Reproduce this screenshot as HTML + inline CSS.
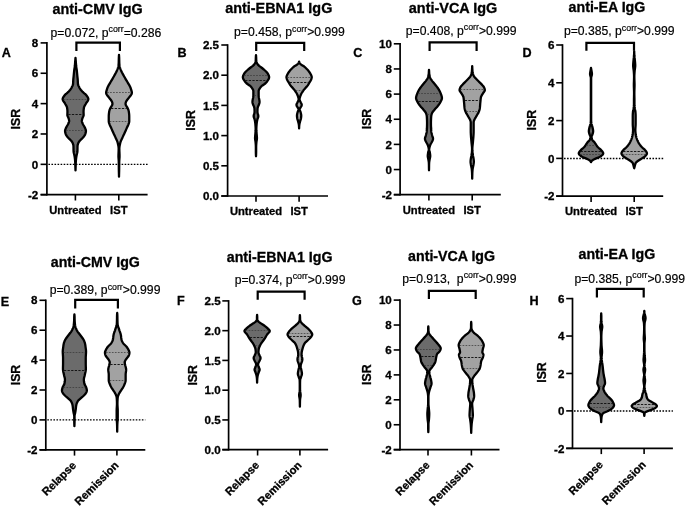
<!DOCTYPE html>
<html><head><meta charset="utf-8"><title>ISR violin plots</title>
<style>
html,body{margin:0;padding:0;background:#fff;}
body{width:685px;height:507px;overflow:hidden;}
svg{display:block;}
svg text{font-family:'Liberation Sans', Arial, Helvetica, sans-serif;fill:#000;stroke:#000;stroke-width:0.3px;}
svg text.r{stroke-width:0.18px;}
</style></head><body>
<svg width="685" height="507" viewBox="0 0 685 507">
<rect width="685" height="507" fill="#fff"/>
<line x1="46.90" y1="42.10" x2="46.90" y2="195.50" stroke="#000" stroke-width="1.7" />
<line x1="40.60" y1="194.70" x2="147.60" y2="194.70" stroke="#000" stroke-width="1.7" />
<line x1="40.60" y1="42.90" x2="46.90" y2="42.90" stroke="#000" stroke-width="1.6" />
<text x="38.20" y="47.08" font-size="11.6" font-weight="bold" text-anchor="end" >8</text>
<line x1="40.60" y1="73.26" x2="46.90" y2="73.26" stroke="#000" stroke-width="1.6" />
<text x="38.20" y="77.44" font-size="11.6" font-weight="bold" text-anchor="end" >6</text>
<line x1="40.60" y1="103.62" x2="46.90" y2="103.62" stroke="#000" stroke-width="1.6" />
<text x="38.20" y="107.80" font-size="11.6" font-weight="bold" text-anchor="end" >4</text>
<line x1="40.60" y1="133.98" x2="46.90" y2="133.98" stroke="#000" stroke-width="1.6" />
<text x="38.20" y="138.16" font-size="11.6" font-weight="bold" text-anchor="end" >2</text>
<line x1="40.60" y1="164.34" x2="46.90" y2="164.34" stroke="#000" stroke-width="1.6" />
<text x="38.20" y="168.52" font-size="11.6" font-weight="bold" text-anchor="end" >0</text>
<line x1="40.60" y1="194.70" x2="46.90" y2="194.70" stroke="#000" stroke-width="1.6" />
<text x="38.20" y="198.88" font-size="11.6" font-weight="bold" text-anchor="end" >-2</text>
<line x1="75.40" y1="194.70" x2="75.40" y2="200.50" stroke="#000" stroke-width="1.6" />
<line x1="118.80" y1="194.70" x2="118.80" y2="200.50" stroke="#000" stroke-width="1.6" />
<line x1="48.40" y1="164.40" x2="147.60" y2="164.40" stroke="#000" stroke-width="1.3" stroke-dasharray="1.6 1.45"/>
<text x="1.80" y="57.20" font-size="12.6" font-weight="bold" text-anchor="start" >A</text>
<text x="16.50" y="119.20" font-size="12.3" font-weight="bold" text-anchor="middle" transform="rotate(-90 16.50 119.20)" dominant-baseline="central">ISR</text>
<text x="52.60" y="13.70" font-size="14.35" font-weight="bold" text-anchor="start" >anti-CMV IgG</text>
<text x="50.60" y="36.80" font-size="12.2" font-weight="normal" class="r" style="white-space:pre">p=0.072, p<tspan font-size="8.8" dy="-4.7">corr</tspan><tspan dy="4.7">=0.286</tspan></text>
<path d="M76.40,51.00 L76.40,42.60 L119.90,42.60 L119.90,51.00" fill="none" stroke="#000" stroke-width="2.2" stroke-linejoin="miter"/>
<text x="75.40" y="213.70" font-size="11.2" font-weight="bold" text-anchor="middle" >Untreated</text>
<text x="118.80" y="213.70" font-size="11.2" font-weight="bold" text-anchor="middle" >IST</text>
<path d="M75.50,57.90 75.57,58.72 75.64,59.54 75.71,60.36 75.78,61.18 75.85,62.00 75.91,62.80 75.96,63.60 76.02,64.40 76.08,65.20 76.15,66.00 76.25,66.80 76.37,67.60 76.51,68.40 76.64,69.20 76.75,70.00 76.84,70.75 76.92,71.50 76.99,72.25 77.07,73.00 77.14,73.75 77.21,74.50 77.28,75.25 77.35,76.00 77.43,76.80 77.52,77.60 77.61,78.40 77.69,79.20 77.75,80.00 77.79,80.80 77.82,81.60 77.85,82.40 77.89,83.20 77.95,84.00 78.08,84.70 78.32,85.40 78.64,86.10 78.99,86.80 79.35,87.50 79.81,88.33 80.34,89.17 80.95,90.00 81.64,90.80 82.42,91.60 83.25,92.40 84.26,93.27 85.31,94.13 86.15,95.00 86.67,95.70 87.18,96.40 87.64,97.10 88.01,97.80 88.26,98.50 88.35,99.20 88.23,99.90 87.92,100.60 87.47,101.30 86.97,102.00 86.47,102.70 86.05,103.40 85.57,104.24 85.06,105.08 84.58,105.92 84.18,106.76 83.95,107.60 83.84,108.30 83.75,109.00 83.67,109.70 83.60,110.40 83.56,111.10 83.55,111.80 83.57,112.60 83.60,113.40 83.63,114.20 83.65,115.00 83.54,115.70 83.28,116.40 82.94,117.10 82.60,117.80 82.35,118.50 82.13,119.33 81.93,120.17 81.85,121.00 81.95,121.75 82.19,122.50 82.52,123.25 82.85,124.00 83.23,124.75 83.69,125.50 84.16,126.25 84.55,127.00 84.92,127.80 85.29,128.60 85.63,129.40 85.86,130.20 85.95,131.00 85.88,131.85 85.70,132.70 85.44,133.55 85.15,134.40 84.79,135.16 84.29,135.92 83.68,136.68 83.02,137.44 82.35,138.20 81.46,139.10 80.55,140.00 79.60,141.00 78.85,142.00 78.47,142.78 78.12,143.56 77.84,144.34 77.64,145.12 77.55,145.90 77.53,146.63 77.51,147.36 77.50,148.09 77.49,148.81 77.48,149.54 77.47,150.27 77.45,151.00 77.39,151.74 77.27,152.49 77.11,153.23 76.93,153.97 76.75,154.71 76.58,155.46 76.45,156.20 76.34,156.93 76.24,157.66 76.14,158.39 76.05,159.11 75.97,159.84 75.90,160.57 75.85,161.30 75.81,162.03 75.78,162.76 75.75,163.49 75.72,164.21 75.70,164.94 75.68,165.67 75.65,166.40 75.62,167.20 75.59,168.00 75.56,168.80 75.53,169.60 75.50,170.40 L75.50,170.40 75.47,169.60 75.44,168.80 75.41,168.00 75.38,167.20 75.35,166.40 75.32,165.67 75.30,164.94 75.28,164.21 75.25,163.49 75.22,162.76 75.19,162.03 75.15,161.30 75.10,160.57 75.03,159.84 74.95,159.11 74.86,158.39 74.76,157.66 74.66,156.93 74.55,156.20 74.42,155.46 74.25,154.71 74.07,153.97 73.89,153.23 73.73,152.49 73.61,151.74 73.55,151.00 73.53,150.27 73.52,149.54 73.51,148.81 73.50,148.09 73.49,147.36 73.47,146.63 73.45,145.90 73.36,145.12 73.16,144.34 72.88,143.56 72.53,142.78 72.15,142.00 71.40,141.00 70.45,140.00 69.54,139.10 68.65,138.20 67.98,137.44 67.32,136.68 66.71,135.92 66.21,135.16 65.85,134.40 65.56,133.55 65.30,132.70 65.12,131.85 65.05,131.00 65.14,130.20 65.37,129.40 65.71,128.60 66.08,127.80 66.45,127.00 66.84,126.25 67.31,125.50 67.77,124.75 68.15,124.00 68.48,123.25 68.81,122.50 69.05,121.75 69.15,121.00 69.07,120.17 68.87,119.33 68.65,118.50 68.40,117.80 68.06,117.10 67.72,116.40 67.46,115.70 67.35,115.00 67.37,114.20 67.40,113.40 67.43,112.60 67.45,111.80 67.44,111.10 67.40,110.40 67.33,109.70 67.25,109.00 67.16,108.30 67.05,107.60 66.82,106.76 66.42,105.92 65.94,105.08 65.43,104.24 64.95,103.40 64.53,102.70 64.03,102.00 63.53,101.30 63.08,100.60 62.77,99.90 62.65,99.20 62.74,98.50 62.99,97.80 63.36,97.10 63.82,96.40 64.33,95.70 64.85,95.00 65.69,94.13 66.74,93.27 67.75,92.40 68.58,91.60 69.36,90.80 70.05,90.00 70.66,89.17 71.19,88.33 71.65,87.50 72.01,86.80 72.36,86.10 72.68,85.40 72.92,84.70 73.05,84.00 73.11,83.20 73.15,82.40 73.18,81.60 73.21,80.80 73.25,80.00 73.31,79.20 73.39,78.40 73.48,77.60 73.57,76.80 73.65,76.00 73.72,75.25 73.79,74.50 73.86,73.75 73.93,73.00 74.01,72.25 74.08,71.50 74.16,70.75 74.25,70.00 74.36,69.20 74.49,68.40 74.63,67.60 74.75,66.80 74.85,66.00 74.92,65.20 74.98,64.40 75.04,63.60 75.09,62.80 75.15,62.00 75.22,61.18 75.29,60.36 75.36,59.54 75.43,58.72 75.50,57.90 Z" fill="#6b6b6b" stroke="#000" stroke-width="2.3" stroke-linejoin="round"/>
<line x1="63.60" y1="99.50" x2="87.40" y2="99.50" stroke="#3a3a3a" stroke-width="0.75" stroke-dasharray="1.7 1.3"/>
<line x1="66.01" y1="130.50" x2="84.99" y2="130.50" stroke="#3a3a3a" stroke-width="0.75" stroke-dasharray="1.7 1.3"/>
<line x1="68.26" y1="114.50" x2="82.74" y2="114.50" stroke="#111" stroke-width="0.95" stroke-dasharray="2.3 1.3"/>
<path d="M119.00,54.90 119.05,55.77 119.11,56.63 119.15,57.50 119.18,58.29 119.20,59.08 119.22,59.86 119.24,60.65 119.26,61.44 119.28,62.22 119.31,63.01 119.35,63.80 119.42,64.60 119.54,65.40 119.69,66.20 119.86,67.00 120.05,67.80 120.28,68.58 120.56,69.36 120.89,70.14 121.24,70.92 121.60,71.70 121.99,72.50 122.41,73.30 122.85,74.10 123.30,74.90 123.75,75.70 124.18,76.48 124.62,77.26 125.06,78.04 125.50,78.82 125.95,79.60 126.42,80.40 126.91,81.20 127.40,82.00 127.88,82.80 128.35,83.60 128.80,84.38 129.26,85.16 129.70,85.94 130.10,86.72 130.45,87.50 130.74,88.28 131.00,89.05 131.23,89.82 131.45,90.60 131.66,91.30 131.80,92.00 131.84,92.50 131.85,93.00 131.68,93.75 131.35,94.50 130.89,95.27 130.27,96.03 129.65,96.80 129.01,97.60 128.34,98.40 127.68,99.20 127.07,100.00 126.55,100.80 126.08,101.65 125.75,102.50 125.61,103.20 125.55,103.90 125.72,104.70 126.05,105.50 126.50,106.30 127.08,107.10 127.55,107.90 127.89,108.68 128.21,109.46 128.48,110.24 128.70,111.02 128.85,111.80 128.95,112.58 129.05,113.37 129.13,114.15 129.19,114.93 129.24,115.72 129.25,116.50 129.25,117.30 129.25,118.10 129.25,118.90 129.25,119.70 129.25,120.50 129.25,121.30 129.17,122.08 128.98,122.85 128.72,123.62 128.45,124.40 128.10,125.27 127.67,126.13 127.25,127.00 126.89,127.80 126.55,128.60 126.20,129.40 125.85,130.20 125.51,131.00 125.15,131.80 124.78,132.60 124.41,133.40 124.03,134.20 123.65,135.00 123.27,135.80 122.91,136.60 122.55,137.40 122.19,138.20 121.81,139.00 121.44,139.80 121.08,140.60 120.75,141.40 120.47,142.20 120.25,143.00 120.09,143.71 119.93,144.43 119.77,145.14 119.64,145.85 119.52,146.56 119.43,147.27 119.37,147.99 119.35,148.70 119.36,149.45 119.37,150.20 119.39,150.95 119.42,151.70 119.45,152.45 119.48,153.20 119.51,153.95 119.53,154.70 119.54,155.45 119.55,156.20 119.54,156.90 119.51,157.60 119.46,158.30 119.41,159.00 119.36,159.70 119.31,160.40 119.27,161.10 119.25,161.80 119.24,162.52 119.23,163.23 119.22,163.95 119.21,164.67 119.20,165.38 119.20,166.10 119.19,166.82 119.18,167.53 119.18,168.25 119.17,168.97 119.16,169.68 119.15,170.40 119.14,171.18 119.12,171.95 119.10,172.72 119.08,173.50 119.06,174.28 119.04,175.05 119.02,175.82 119.00,176.60 L119.00,176.60 118.98,175.82 118.96,175.05 118.94,174.28 118.92,173.50 118.90,172.72 118.88,171.95 118.86,171.18 118.85,170.40 118.84,169.68 118.83,168.97 118.82,168.25 118.82,167.53 118.81,166.82 118.80,166.10 118.80,165.38 118.79,164.67 118.78,163.95 118.77,163.23 118.76,162.52 118.75,161.80 118.73,161.10 118.69,160.40 118.64,159.70 118.59,159.00 118.54,158.30 118.49,157.60 118.46,156.90 118.45,156.20 118.46,155.45 118.47,154.70 118.49,153.95 118.52,153.20 118.55,152.45 118.58,151.70 118.61,150.95 118.63,150.20 118.64,149.45 118.65,148.70 118.63,147.99 118.57,147.27 118.48,146.56 118.36,145.85 118.23,145.14 118.07,144.43 117.91,143.71 117.75,143.00 117.53,142.20 117.25,141.40 116.92,140.60 116.56,139.80 116.19,139.00 115.81,138.20 115.45,137.40 115.09,136.60 114.73,135.80 114.35,135.00 113.97,134.20 113.59,133.40 113.22,132.60 112.85,131.80 112.49,131.00 112.15,130.20 111.80,129.40 111.45,128.60 111.11,127.80 110.75,127.00 110.33,126.13 109.90,125.27 109.55,124.40 109.28,123.62 109.02,122.85 108.83,122.08 108.75,121.30 108.75,120.50 108.75,119.70 108.75,118.90 108.75,118.10 108.75,117.30 108.75,116.50 108.76,115.72 108.81,114.93 108.87,114.15 108.95,113.37 109.05,112.58 109.15,111.80 109.30,111.02 109.52,110.24 109.79,109.46 110.11,108.68 110.45,107.90 110.92,107.10 111.50,106.30 111.95,105.50 112.28,104.70 112.45,103.90 112.39,103.20 112.25,102.50 111.92,101.65 111.45,100.80 110.93,100.00 110.32,99.20 109.66,98.40 108.99,97.60 108.35,96.80 107.73,96.03 107.11,95.27 106.65,94.50 106.32,93.75 106.15,93.00 106.16,92.50 106.20,92.00 106.34,91.30 106.55,90.60 106.77,89.82 107.00,89.05 107.26,88.28 107.55,87.50 107.90,86.72 108.30,85.94 108.74,85.16 109.20,84.38 109.65,83.60 110.12,82.80 110.60,82.00 111.09,81.20 111.58,80.40 112.05,79.60 112.50,78.82 112.94,78.04 113.38,77.26 113.82,76.48 114.25,75.70 114.70,74.90 115.15,74.10 115.59,73.30 116.01,72.50 116.40,71.70 116.76,70.92 117.11,70.14 117.44,69.36 117.72,68.58 117.95,67.80 118.14,67.00 118.31,66.20 118.46,65.40 118.58,64.60 118.65,63.80 118.69,63.01 118.72,62.22 118.74,61.44 118.76,60.65 118.78,59.86 118.80,59.08 118.82,58.29 118.85,57.50 118.89,56.63 118.95,55.77 119.00,54.90 Z" fill="#a2a2a2" stroke="#000" stroke-width="2.3" stroke-linejoin="round"/>
<line x1="107.06" y1="92.50" x2="130.94" y2="92.50" stroke="#3a3a3a" stroke-width="0.75" stroke-dasharray="1.7 1.3"/>
<line x1="109.67" y1="121.50" x2="128.33" y2="121.50" stroke="#3a3a3a" stroke-width="0.75" stroke-dasharray="1.7 1.3"/>
<line x1="111.09" y1="108.50" x2="126.91" y2="108.50" stroke="#111" stroke-width="0.95" stroke-dasharray="2.3 1.3"/>
<line x1="227.60" y1="44.20" x2="227.60" y2="196.80" stroke="#000" stroke-width="1.7" />
<line x1="221.30" y1="196.00" x2="328.00" y2="196.00" stroke="#000" stroke-width="1.7" />
<line x1="221.30" y1="45.00" x2="227.60" y2="45.00" stroke="#000" stroke-width="1.6" />
<text x="219.00" y="49.18" font-size="11.6" font-weight="bold" text-anchor="end" >2.5</text>
<line x1="221.30" y1="75.20" x2="227.60" y2="75.20" stroke="#000" stroke-width="1.6" />
<text x="219.00" y="79.38" font-size="11.6" font-weight="bold" text-anchor="end" >2.0</text>
<line x1="221.30" y1="105.40" x2="227.60" y2="105.40" stroke="#000" stroke-width="1.6" />
<text x="219.00" y="109.58" font-size="11.6" font-weight="bold" text-anchor="end" >1.5</text>
<line x1="221.30" y1="135.60" x2="227.60" y2="135.60" stroke="#000" stroke-width="1.6" />
<text x="219.00" y="139.78" font-size="11.6" font-weight="bold" text-anchor="end" >1.0</text>
<line x1="221.30" y1="165.80" x2="227.60" y2="165.80" stroke="#000" stroke-width="1.6" />
<text x="219.00" y="169.98" font-size="11.6" font-weight="bold" text-anchor="end" >0.5</text>
<line x1="221.30" y1="196.00" x2="227.60" y2="196.00" stroke="#000" stroke-width="1.6" />
<text x="219.00" y="200.18" font-size="11.6" font-weight="bold" text-anchor="end" >0.0</text>
<line x1="256.00" y1="196.00" x2="256.00" y2="201.80" stroke="#000" stroke-width="1.6" />
<line x1="299.10" y1="196.00" x2="299.10" y2="201.80" stroke="#000" stroke-width="1.6" />
<text x="177.50" y="57.20" font-size="12.6" font-weight="bold" text-anchor="start" >B</text>
<text x="191.00" y="120.40" font-size="12.3" font-weight="bold" text-anchor="middle" transform="rotate(-90 191.00 120.40)" dominant-baseline="central">ISR</text>
<text x="225.20" y="13.10" font-size="14.4" font-weight="bold" text-anchor="start" >anti-EBNA1 IgG</text>
<text x="234.10" y="36.40" font-size="12.2" font-weight="normal" class="r" style="white-space:pre">p=0.458, p<tspan font-size="8.8" dy="-4.7">corr</tspan><tspan dy="4.7">&gt;0.999</tspan></text>
<path d="M256.20,51.10 L256.20,42.90 L304.20,42.90 L304.20,51.10" fill="none" stroke="#000" stroke-width="2.2" stroke-linejoin="miter"/>
<text x="256.00" y="215.20" font-size="11.2" font-weight="bold" text-anchor="middle" >Untreated</text>
<text x="299.10" y="215.20" font-size="11.2" font-weight="bold" text-anchor="middle" >IST</text>
<path d="M256.00,55.20 256.08,56.10 256.15,57.00 256.18,57.75 256.20,58.50 256.22,59.25 256.25,60.00 256.33,60.83 256.46,61.67 256.65,62.50 256.97,63.25 257.45,64.00 258.21,64.90 259.15,65.80 260.21,66.65 261.35,67.50 262.63,68.50 263.85,69.50 265.01,70.50 266.05,71.50 266.78,72.30 267.44,73.10 267.95,73.90 268.37,74.70 268.76,75.50 269.04,76.30 269.15,77.10 269.06,77.87 268.81,78.64 268.44,79.41 267.96,80.19 267.42,80.96 266.84,81.73 266.25,82.50 265.54,83.23 264.59,83.97 263.53,84.70 262.47,85.43 261.54,86.17 260.85,86.90 260.33,87.62 259.82,88.33 259.36,89.05 258.99,89.77 258.74,90.48 258.65,91.20 258.65,91.92 258.65,92.63 258.65,93.35 258.65,94.07 258.65,94.78 258.65,95.50 258.68,96.22 258.76,96.94 258.88,97.67 259.03,98.39 259.17,99.11 259.32,99.83 259.44,100.56 259.52,101.28 259.55,102.00 259.48,102.73 259.31,103.47 259.06,104.20 258.75,104.93 258.43,105.67 258.12,106.40 257.85,107.13 257.65,107.87 257.55,108.60 257.51,109.45 257.48,110.30 257.46,111.15 257.45,112.00 257.54,112.82 257.77,113.64 258.03,114.46 258.26,115.28 258.35,116.10 258.26,116.88 258.04,117.66 257.75,118.44 257.46,119.22 257.25,120.00 257.11,120.70 256.99,121.40 256.87,122.10 256.77,122.80 256.70,123.50 256.63,124.24 256.57,124.97 256.51,125.71 256.46,126.45 256.41,127.19 256.38,127.93 256.36,128.66 256.35,129.40 256.37,130.17 256.40,130.93 256.46,131.70 256.53,132.47 256.59,133.23 256.65,134.00 256.71,134.72 256.77,135.43 256.84,136.15 256.89,136.87 256.93,137.58 256.95,138.30 256.91,139.04 256.80,139.78 256.67,140.52 256.54,141.26 256.45,142.00 256.39,142.74 256.33,143.49 256.27,144.23 256.22,144.97 256.18,145.71 256.16,146.46 256.15,147.20 256.15,148.00 256.15,148.80 256.15,149.60 256.15,150.40 256.15,151.20 256.15,152.00 256.14,152.72 256.12,153.43 256.09,154.15 256.06,154.87 256.03,155.58 256.00,156.30 L256.00,156.30 255.97,155.58 255.94,154.87 255.91,154.15 255.88,153.43 255.86,152.72 255.85,152.00 255.85,151.20 255.85,150.40 255.85,149.60 255.85,148.80 255.85,148.00 255.85,147.20 255.84,146.46 255.82,145.71 255.78,144.97 255.73,144.23 255.67,143.49 255.61,142.74 255.55,142.00 255.46,141.26 255.33,140.52 255.20,139.78 255.09,139.04 255.05,138.30 255.07,137.58 255.11,136.87 255.16,136.15 255.23,135.43 255.29,134.72 255.35,134.00 255.41,133.23 255.47,132.47 255.54,131.70 255.60,130.93 255.63,130.17 255.65,129.40 255.64,128.66 255.62,127.93 255.59,127.19 255.54,126.45 255.49,125.71 255.43,124.97 255.37,124.24 255.30,123.50 255.23,122.80 255.13,122.10 255.01,121.40 254.89,120.70 254.75,120.00 254.54,119.22 254.25,118.44 253.96,117.66 253.74,116.88 253.65,116.10 253.74,115.28 253.97,114.46 254.23,113.64 254.46,112.82 254.55,112.00 254.54,111.15 254.52,110.30 254.49,109.45 254.45,108.60 254.35,107.87 254.15,107.13 253.88,106.40 253.57,105.67 253.25,104.93 252.94,104.20 252.69,103.47 252.52,102.73 252.45,102.00 252.48,101.28 252.56,100.56 252.68,99.83 252.83,99.11 252.97,98.39 253.12,97.67 253.24,96.94 253.32,96.22 253.35,95.50 253.35,94.78 253.35,94.07 253.35,93.35 253.35,92.63 253.35,91.92 253.35,91.20 253.26,90.48 253.01,89.77 252.64,89.05 252.18,88.33 251.67,87.62 251.15,86.90 250.46,86.17 249.53,85.43 248.47,84.70 247.41,83.97 246.46,83.23 245.75,82.50 245.16,81.73 244.58,80.96 244.04,80.19 243.56,79.41 243.19,78.64 242.94,77.87 242.85,77.10 242.96,76.30 243.24,75.50 243.63,74.70 244.05,73.90 244.56,73.10 245.22,72.30 245.95,71.50 246.99,70.50 248.15,69.50 249.37,68.50 250.65,67.50 251.79,66.65 252.85,65.80 253.79,64.90 254.55,64.00 255.03,63.25 255.35,62.50 255.54,61.67 255.67,60.83 255.75,60.00 255.78,59.25 255.80,58.50 255.82,57.75 255.85,57.00 255.92,56.10 256.00,55.20 Z" fill="#6b6b6b" stroke="#000" stroke-width="2.3" stroke-linejoin="round"/>
<line x1="244.14" y1="75.50" x2="267.86" y2="75.50" stroke="#3a3a3a" stroke-width="0.75" stroke-dasharray="1.7 1.3"/>
<line x1="254.25" y1="95.50" x2="257.75" y2="95.50" stroke="#3a3a3a" stroke-width="0.75" stroke-dasharray="1.7 1.3"/>
<line x1="245.16" y1="80.50" x2="266.84" y2="80.50" stroke="#111" stroke-width="0.95" stroke-dasharray="2.3 1.3"/>
<path d="M299.10,61.70 299.30,62.35 299.55,63.00 300.12,63.75 300.95,64.50 302.43,65.40 303.95,66.30 304.81,67.03 305.54,67.77 306.25,68.50 307.30,69.55 308.25,70.60 308.91,71.45 309.53,72.30 310.08,73.15 310.55,74.00 310.95,74.78 311.34,75.55 311.63,76.32 311.75,77.10 311.68,77.82 311.49,78.55 311.23,79.28 310.95,80.00 310.53,80.83 309.99,81.67 309.45,82.50 309.04,83.22 308.64,83.95 308.22,84.68 307.75,85.40 307.05,86.27 306.24,87.13 305.45,88.00 304.64,88.93 303.85,89.87 303.15,90.80 302.65,91.53 302.17,92.27 301.72,93.00 301.31,93.73 300.95,94.47 300.65,95.20 300.39,95.92 300.14,96.63 299.91,97.35 299.72,98.07 299.60,98.78 299.55,99.50 299.74,100.33 300.14,101.17 300.55,102.00 300.91,102.75 301.30,103.50 301.62,104.25 301.75,105.00 301.53,105.83 301.05,106.67 300.55,107.50 299.93,108.40 299.55,109.30 299.76,110.20 300.19,111.10 300.55,112.00 300.74,112.76 300.93,113.52 301.10,114.28 301.21,115.04 301.25,115.80 301.20,116.70 301.09,117.60 300.95,118.50 300.73,119.40 300.42,120.30 300.15,121.20 299.97,121.92 299.78,122.63 299.61,123.35 299.46,124.07 299.33,124.78 299.25,125.50 299.20,126.22 299.16,126.95 299.13,127.68 299.10,128.40 L299.10,128.40 299.07,127.68 299.04,126.95 299.00,126.22 298.95,125.50 298.87,124.78 298.74,124.07 298.59,123.35 298.42,122.63 298.23,121.92 298.05,121.20 297.78,120.30 297.47,119.40 297.25,118.50 297.11,117.60 297.00,116.70 296.95,115.80 296.99,115.04 297.10,114.28 297.27,113.52 297.46,112.76 297.65,112.00 298.01,111.10 298.44,110.20 298.65,109.30 298.27,108.40 297.65,107.50 297.15,106.67 296.67,105.83 296.45,105.00 296.58,104.25 296.90,103.50 297.29,102.75 297.65,102.00 298.06,101.17 298.46,100.33 298.65,99.50 298.60,98.78 298.48,98.07 298.29,97.35 298.06,96.63 297.81,95.92 297.55,95.20 297.25,94.47 296.89,93.73 296.48,93.00 296.03,92.27 295.55,91.53 295.05,90.80 294.35,89.87 293.56,88.93 292.75,88.00 291.96,87.13 291.15,86.27 290.45,85.40 289.98,84.68 289.56,83.95 289.16,83.22 288.75,82.50 288.21,81.67 287.67,80.83 287.25,80.00 286.97,79.28 286.71,78.55 286.52,77.82 286.45,77.10 286.57,76.32 286.86,75.55 287.25,74.78 287.65,74.00 288.12,73.15 288.67,72.30 289.29,71.45 289.95,70.60 290.90,69.55 291.95,68.50 292.66,67.77 293.39,67.03 294.25,66.30 295.77,65.40 297.25,64.50 298.08,63.75 298.65,63.00 298.90,62.35 299.10,61.70 Z" fill="#a2a2a2" stroke="#000" stroke-width="2.3" stroke-linejoin="round"/>
<line x1="287.39" y1="77.50" x2="310.81" y2="77.50" stroke="#3a3a3a" stroke-width="0.75" stroke-dasharray="1.7 1.3"/>
<line x1="295.72" y1="90.50" x2="302.48" y2="90.50" stroke="#3a3a3a" stroke-width="0.75" stroke-dasharray="1.7 1.3"/>
<line x1="289.65" y1="82.50" x2="308.55" y2="82.50" stroke="#111" stroke-width="0.95" stroke-dasharray="2.3 1.3"/>
<line x1="400.10" y1="43.00" x2="400.10" y2="195.40" stroke="#000" stroke-width="1.7" />
<line x1="393.80" y1="194.60" x2="500.80" y2="194.60" stroke="#000" stroke-width="1.7" />
<line x1="393.80" y1="43.80" x2="400.10" y2="43.80" stroke="#000" stroke-width="1.6" />
<text x="392.00" y="47.98" font-size="11.6" font-weight="bold" text-anchor="end" >10</text>
<line x1="393.80" y1="68.95" x2="400.10" y2="68.95" stroke="#000" stroke-width="1.6" />
<text x="392.00" y="73.13" font-size="11.6" font-weight="bold" text-anchor="end" >8</text>
<line x1="393.80" y1="94.10" x2="400.10" y2="94.10" stroke="#000" stroke-width="1.6" />
<text x="392.00" y="98.28" font-size="11.6" font-weight="bold" text-anchor="end" >6</text>
<line x1="393.80" y1="119.25" x2="400.10" y2="119.25" stroke="#000" stroke-width="1.6" />
<text x="392.00" y="123.43" font-size="11.6" font-weight="bold" text-anchor="end" >4</text>
<line x1="393.80" y1="144.40" x2="400.10" y2="144.40" stroke="#000" stroke-width="1.6" />
<text x="392.00" y="148.58" font-size="11.6" font-weight="bold" text-anchor="end" >2</text>
<line x1="393.80" y1="169.55" x2="400.10" y2="169.55" stroke="#000" stroke-width="1.6" />
<text x="392.00" y="173.73" font-size="11.6" font-weight="bold" text-anchor="end" >0</text>
<line x1="393.80" y1="194.70" x2="400.10" y2="194.70" stroke="#000" stroke-width="1.6" />
<text x="392.00" y="198.88" font-size="11.6" font-weight="bold" text-anchor="end" >-2</text>
<line x1="428.90" y1="194.60" x2="428.90" y2="200.40" stroke="#000" stroke-width="1.6" />
<line x1="472.20" y1="194.60" x2="472.20" y2="200.40" stroke="#000" stroke-width="1.6" />
<text x="353.30" y="57.20" font-size="12.6" font-weight="bold" text-anchor="start" >C</text>
<text x="367.00" y="119.00" font-size="12.3" font-weight="bold" text-anchor="middle" transform="rotate(-90 367.00 119.00)" dominant-baseline="central">ISR</text>
<text x="408.80" y="13.10" font-size="14.45" font-weight="bold" text-anchor="start" >anti-VCA IgG</text>
<text x="405.80" y="35.00" font-size="12.2" font-weight="normal" class="r" style="white-space:pre">p=0.408, p<tspan font-size="8.8" dy="-4.7">corr</tspan><tspan dy="4.7">&gt;0.999</tspan></text>
<path d="M429.60,51.00 L429.60,42.40 L476.60,42.40 L476.60,51.00" fill="none" stroke="#000" stroke-width="2.2" stroke-linejoin="miter"/>
<text x="428.90" y="213.80" font-size="11.2" font-weight="bold" text-anchor="middle" >Untreated</text>
<text x="472.20" y="213.80" font-size="11.2" font-weight="bold" text-anchor="middle" >IST</text>
<path d="M429.00,69.90 429.08,70.95 429.15,72.00 429.19,72.75 429.23,73.50 429.28,74.25 429.35,75.00 429.50,75.83 429.75,76.67 430.05,77.50 430.41,78.28 430.88,79.05 431.41,79.82 431.95,80.60 432.48,81.33 433.05,82.07 433.65,82.80 434.26,83.53 434.87,84.27 435.45,85.00 436.10,85.82 436.76,86.64 437.41,87.46 438.01,88.28 438.55,89.10 438.96,89.80 439.36,90.50 439.73,91.20 440.07,91.90 440.38,92.60 440.65,93.30 440.94,94.10 441.24,94.90 441.51,95.70 441.74,96.50 441.89,97.30 441.95,98.10 441.87,98.80 441.65,99.50 441.34,100.20 440.99,100.90 440.65,101.60 440.21,102.45 439.71,103.30 439.15,104.15 438.55,105.00 437.92,105.82 437.23,106.64 436.50,107.46 435.76,108.28 435.05,109.10 434.36,109.90 433.67,110.70 433.05,111.50 432.43,112.40 431.95,113.30 431.64,114.20 431.39,115.10 431.25,116.00 431.19,116.77 431.14,117.53 431.09,118.30 431.05,119.07 431.01,119.83 430.99,120.60 430.97,121.37 430.95,122.13 430.95,122.90 430.95,123.65 430.96,124.41 430.97,125.16 430.99,125.92 431.02,126.67 431.04,127.43 431.08,128.18 431.11,128.94 431.16,129.69 431.20,130.45 431.25,131.20 431.34,131.96 431.48,132.72 431.67,133.48 431.86,134.24 432.05,135.00 432.27,135.76 432.53,136.52 432.78,137.28 432.97,138.04 433.05,138.80 432.93,139.60 432.63,140.40 432.24,141.20 431.85,142.00 431.46,142.75 431.01,143.50 430.58,144.25 430.25,145.00 429.97,145.82 429.70,146.64 429.47,147.46 429.31,148.28 429.25,149.10 429.32,149.95 429.49,150.80 429.69,151.65 429.85,152.50 429.95,153.20 430.06,153.90 430.16,154.60 430.22,155.30 430.25,156.00 430.21,156.70 430.09,157.40 429.94,158.10 429.78,158.80 429.65,159.50 429.50,160.35 429.35,161.20 429.22,162.05 429.15,162.90 429.12,163.64 429.10,164.38 429.08,165.12 429.07,165.86 429.06,166.60 429.05,167.34 429.04,168.08 429.03,168.82 429.01,169.56 429.00,170.30 L429.00,170.30 428.99,169.56 428.97,168.82 428.96,168.08 428.95,167.34 428.94,166.60 428.93,165.86 428.92,165.12 428.90,164.38 428.88,163.64 428.85,162.90 428.78,162.05 428.65,161.20 428.50,160.35 428.35,159.50 428.22,158.80 428.06,158.10 427.91,157.40 427.79,156.70 427.75,156.00 427.78,155.30 427.84,154.60 427.94,153.90 428.05,153.20 428.15,152.50 428.31,151.65 428.51,150.80 428.68,149.95 428.75,149.10 428.69,148.28 428.53,147.46 428.30,146.64 428.03,145.82 427.75,145.00 427.42,144.25 426.99,143.50 426.54,142.75 426.15,142.00 425.76,141.20 425.37,140.40 425.07,139.60 424.95,138.80 425.03,138.04 425.22,137.28 425.47,136.52 425.73,135.76 425.95,135.00 426.14,134.24 426.33,133.48 426.52,132.72 426.66,131.96 426.75,131.20 426.80,130.45 426.84,129.69 426.89,128.94 426.92,128.18 426.96,127.43 426.98,126.67 427.01,125.92 427.03,125.16 427.04,124.41 427.05,123.65 427.05,122.90 427.05,122.13 427.03,121.37 427.01,120.60 426.99,119.83 426.95,119.07 426.91,118.30 426.86,117.53 426.81,116.77 426.75,116.00 426.61,115.10 426.36,114.20 426.05,113.30 425.57,112.40 424.95,111.50 424.33,110.70 423.64,109.90 422.95,109.10 422.24,108.28 421.50,107.46 420.77,106.64 420.08,105.82 419.45,105.00 418.85,104.15 418.29,103.30 417.79,102.45 417.35,101.60 417.01,100.90 416.66,100.20 416.35,99.50 416.13,98.80 416.05,98.10 416.11,97.30 416.26,96.50 416.49,95.70 416.76,94.90 417.06,94.10 417.35,93.30 417.62,92.60 417.93,91.90 418.27,91.20 418.64,90.50 419.04,89.80 419.45,89.10 419.99,88.28 420.59,87.46 421.24,86.64 421.90,85.82 422.55,85.00 423.13,84.27 423.74,83.53 424.35,82.80 424.95,82.07 425.52,81.33 426.05,80.60 426.59,79.82 427.12,79.05 427.59,78.28 427.95,77.50 428.25,76.67 428.50,75.83 428.65,75.00 428.72,74.25 428.77,73.50 428.81,72.75 428.85,72.00 428.92,70.95 429.00,69.90 Z" fill="#6b6b6b" stroke="#000" stroke-width="2.3" stroke-linejoin="round"/>
<line x1="418.18" y1="93.50" x2="439.82" y2="93.50" stroke="#3a3a3a" stroke-width="0.75" stroke-dasharray="1.7 1.3"/>
<line x1="427.35" y1="114.50" x2="430.65" y2="114.50" stroke="#3a3a3a" stroke-width="0.75" stroke-dasharray="1.7 1.3"/>
<line x1="418.20" y1="101.50" x2="439.80" y2="101.50" stroke="#111" stroke-width="0.95" stroke-dasharray="2.3 1.3"/>
<path d="M472.20,66.10 472.24,66.83 472.27,67.55 472.31,68.28 472.35,69.00 472.40,69.76 472.44,70.52 472.49,71.28 472.56,72.04 472.65,72.80 472.81,73.53 473.06,74.27 473.35,75.00 473.74,75.85 474.25,76.70 474.99,77.60 475.85,78.50 476.79,79.50 477.75,80.50 478.53,81.28 479.34,82.06 480.15,82.84 480.93,83.62 481.65,84.40 482.37,85.20 483.09,86.00 483.71,86.80 484.15,87.60 484.48,88.43 484.74,89.27 484.85,90.10 484.64,90.90 484.12,91.70 483.50,92.50 482.95,93.30 482.49,94.08 482.01,94.86 481.56,95.64 481.19,96.42 480.95,97.20 480.82,97.93 480.72,98.66 480.63,99.39 480.56,100.11 480.49,100.84 480.42,101.57 480.35,102.30 480.28,103.01 480.22,103.72 480.17,104.43 480.12,105.14 480.06,105.86 480.00,106.57 479.93,107.28 479.85,107.99 479.75,108.70 479.59,109.48 479.37,110.26 479.09,111.04 478.78,111.82 478.45,112.60 478.03,113.40 477.54,114.20 477.05,115.00 476.55,115.90 476.05,116.80 475.55,117.70 475.08,118.47 474.61,119.23 474.25,120.00 473.97,120.77 473.74,121.53 473.65,122.30 473.65,123.04 473.65,123.78 473.65,124.52 473.65,125.26 473.65,126.00 473.65,126.71 473.65,127.43 473.65,128.14 473.65,128.86 473.65,129.57 473.65,130.29 473.65,131.00 473.64,131.71 473.63,132.43 473.60,133.14 473.57,133.86 473.53,134.57 473.49,135.29 473.45,136.00 473.40,136.75 473.35,137.50 473.29,138.25 473.22,139.00 473.15,139.75 473.08,140.50 473.02,141.25 472.95,142.00 472.89,142.70 472.81,143.40 472.73,144.10 472.65,144.80 472.58,145.50 472.50,146.20 472.44,146.90 472.39,147.60 472.36,148.30 472.35,149.00 472.36,149.71 472.38,150.43 472.42,151.14 472.47,151.86 472.52,152.57 472.58,153.29 472.65,154.00 472.76,154.80 472.93,155.60 473.12,156.40 473.31,157.20 473.45,158.00 473.56,158.74 473.67,159.48 473.76,160.22 473.82,160.96 473.85,161.70 473.81,162.52 473.71,163.35 473.58,164.18 473.45,165.00 473.30,165.80 473.12,166.60 472.94,167.40 472.77,168.20 472.65,169.00 472.57,169.80 472.50,170.60 472.44,171.40 472.39,172.20 472.35,173.00 472.32,173.80 472.30,174.60 472.27,175.40 472.26,176.20 472.24,177.00 472.22,177.80 472.20,178.60 L472.20,178.60 472.18,177.80 472.16,177.00 472.14,176.20 472.13,175.40 472.10,174.60 472.08,173.80 472.05,173.00 472.01,172.20 471.96,171.40 471.90,170.60 471.83,169.80 471.75,169.00 471.63,168.20 471.46,167.40 471.28,166.60 471.10,165.80 470.95,165.00 470.82,164.18 470.69,163.35 470.59,162.52 470.55,161.70 470.58,160.96 470.64,160.22 470.73,159.48 470.84,158.74 470.95,158.00 471.09,157.20 471.28,156.40 471.47,155.60 471.64,154.80 471.75,154.00 471.82,153.29 471.88,152.57 471.93,151.86 471.98,151.14 472.02,150.43 472.04,149.71 472.05,149.00 472.04,148.30 472.01,147.60 471.96,146.90 471.90,146.20 471.82,145.50 471.75,144.80 471.67,144.10 471.59,143.40 471.51,142.70 471.45,142.00 471.38,141.25 471.32,140.50 471.25,139.75 471.18,139.00 471.11,138.25 471.05,137.50 471.00,136.75 470.95,136.00 470.91,135.29 470.87,134.57 470.83,133.86 470.80,133.14 470.77,132.43 470.76,131.71 470.75,131.00 470.75,130.29 470.75,129.57 470.75,128.86 470.75,128.14 470.75,127.43 470.75,126.71 470.75,126.00 470.75,125.26 470.75,124.52 470.75,123.78 470.75,123.04 470.75,122.30 470.66,121.53 470.43,120.77 470.15,120.00 469.79,119.23 469.32,118.47 468.85,117.70 468.35,116.80 467.85,115.90 467.35,115.00 466.86,114.20 466.37,113.40 465.95,112.60 465.62,111.82 465.31,111.04 465.03,110.26 464.81,109.48 464.65,108.70 464.55,107.99 464.47,107.28 464.40,106.57 464.34,105.86 464.28,105.14 464.23,104.43 464.18,103.72 464.12,103.01 464.05,102.30 463.98,101.57 463.91,100.84 463.84,100.11 463.77,99.39 463.68,98.66 463.58,97.93 463.45,97.20 463.21,96.42 462.84,95.64 462.39,94.86 461.91,94.08 461.45,93.30 460.90,92.50 460.28,91.70 459.76,90.90 459.55,90.10 459.66,89.27 459.92,88.43 460.25,87.60 460.69,86.80 461.31,86.00 462.03,85.20 462.75,84.40 463.47,83.62 464.25,82.84 465.06,82.06 465.87,81.28 466.65,80.50 467.61,79.50 468.55,78.50 469.41,77.60 470.15,76.70 470.66,75.85 471.05,75.00 471.34,74.27 471.59,73.53 471.75,72.80 471.84,72.04 471.91,71.28 471.96,70.52 472.00,69.76 472.05,69.00 472.09,68.28 472.13,67.55 472.16,66.83 472.20,66.10 Z" fill="#a2a2a2" stroke="#000" stroke-width="2.3" stroke-linejoin="round"/>
<line x1="460.53" y1="89.50" x2="483.87" y2="89.50" stroke="#3a3a3a" stroke-width="0.75" stroke-dasharray="1.7 1.3"/>
<line x1="466.39" y1="111.50" x2="478.01" y2="111.50" stroke="#3a3a3a" stroke-width="0.75" stroke-dasharray="1.7 1.3"/>
<line x1="464.78" y1="100.50" x2="479.62" y2="100.50" stroke="#111" stroke-width="0.95" stroke-dasharray="2.3 1.3"/>
<line x1="562.50" y1="44.20" x2="562.50" y2="197.00" stroke="#000" stroke-width="1.7" />
<line x1="556.20" y1="196.20" x2="663.20" y2="196.20" stroke="#000" stroke-width="1.7" />
<line x1="556.20" y1="45.00" x2="562.50" y2="45.00" stroke="#000" stroke-width="1.6" />
<text x="554.50" y="49.18" font-size="11.6" font-weight="bold" text-anchor="end" >6</text>
<line x1="556.20" y1="82.80" x2="562.50" y2="82.80" stroke="#000" stroke-width="1.6" />
<text x="554.50" y="86.98" font-size="11.6" font-weight="bold" text-anchor="end" >4</text>
<line x1="556.20" y1="120.60" x2="562.50" y2="120.60" stroke="#000" stroke-width="1.6" />
<text x="554.50" y="124.78" font-size="11.6" font-weight="bold" text-anchor="end" >2</text>
<line x1="556.20" y1="158.40" x2="562.50" y2="158.40" stroke="#000" stroke-width="1.6" />
<text x="554.50" y="162.58" font-size="11.6" font-weight="bold" text-anchor="end" >0</text>
<line x1="556.20" y1="196.20" x2="562.50" y2="196.20" stroke="#000" stroke-width="1.6" />
<text x="554.50" y="200.38" font-size="11.6" font-weight="bold" text-anchor="end" >-2</text>
<line x1="591.10" y1="196.20" x2="591.10" y2="202.00" stroke="#000" stroke-width="1.6" />
<line x1="634.20" y1="196.20" x2="634.20" y2="202.00" stroke="#000" stroke-width="1.6" />
<line x1="564.00" y1="158.50" x2="663.20" y2="158.50" stroke="#000" stroke-width="1.3" stroke-dasharray="1.6 1.45"/>
<text x="522.60" y="57.20" font-size="12.6" font-weight="bold" text-anchor="start" >D</text>
<text x="532.20" y="120.20" font-size="12.3" font-weight="bold" text-anchor="middle" transform="rotate(-90 532.20 120.20)" dominant-baseline="central">ISR</text>
<text x="568.60" y="11.70" font-size="14.2" font-weight="bold" text-anchor="start" >anti-EA IgG</text>
<text x="563.90" y="35.40" font-size="12.2" font-weight="normal" class="r" style="white-space:pre">p=0.385, p<tspan font-size="8.8" dy="-4.7">corr</tspan><tspan dy="4.7">&gt;0.999</tspan></text>
<path d="M586.40,50.80 L586.40,42.90 L634.00,42.90 L634.00,50.80" fill="none" stroke="#000" stroke-width="2.2" stroke-linejoin="miter"/>
<text x="591.10" y="215.30" font-size="11.2" font-weight="bold" text-anchor="middle" >Untreated</text>
<text x="634.20" y="215.30" font-size="11.2" font-weight="bold" text-anchor="middle" >IST</text>
<path d="M591.00,68.00 591.18,69.00 591.35,70.00 591.50,70.80 591.66,71.60 591.80,72.40 591.91,73.20 591.95,74.00 591.87,74.80 591.67,75.60 591.43,76.40 591.23,77.20 591.15,78.00 591.15,78.71 591.15,79.41 591.15,80.12 591.15,80.82 591.15,81.53 591.15,82.24 591.15,82.94 591.15,83.65 591.15,84.35 591.15,85.06 591.15,85.76 591.15,86.47 591.15,87.18 591.15,87.88 591.15,88.59 591.15,89.29 591.15,90.00 591.15,90.71 591.15,91.43 591.15,92.14 591.15,92.86 591.15,93.57 591.15,94.29 591.15,95.00 591.15,95.71 591.15,96.43 591.15,97.14 591.15,97.86 591.15,98.57 591.15,99.29 591.15,100.00 591.15,100.71 591.15,101.43 591.15,102.14 591.15,102.86 591.15,103.57 591.15,104.29 591.15,105.00 591.15,105.71 591.15,106.43 591.15,107.14 591.15,107.86 591.15,108.57 591.15,109.29 591.15,110.00 591.15,110.71 591.15,111.43 591.15,112.14 591.15,112.86 591.15,113.57 591.15,114.29 591.15,115.00 591.15,115.71 591.15,116.43 591.15,117.14 591.15,117.86 591.15,118.57 591.15,119.29 591.15,120.00 591.17,120.80 591.21,121.60 591.27,122.40 591.35,123.20 591.45,124.00 591.63,124.75 591.91,125.50 592.22,126.25 592.45,127.00 592.61,127.72 592.77,128.43 592.92,129.15 593.04,129.87 593.12,130.58 593.15,131.30 593.08,132.10 592.91,132.90 592.69,133.70 592.45,134.50 592.08,135.33 591.66,136.17 591.45,137.00 591.54,137.83 591.76,138.67 592.05,139.50 592.47,140.20 593.11,140.90 593.82,141.60 594.45,142.30 595.02,143.08 595.55,143.87 596.05,144.65 596.56,145.43 597.12,146.22 597.75,147.00 598.57,147.80 599.53,148.60 600.48,149.40 601.25,150.20 601.92,151.00 602.57,151.80 603.06,152.60 603.25,153.40 603.00,154.18 602.36,154.95 601.46,155.72 600.45,156.50 598.89,157.30 596.81,158.10 594.95,158.90 593.17,159.85 591.85,160.80 591.38,161.45 591.00,162.10 L591.00,162.10 590.62,161.45 590.15,160.80 588.83,159.85 587.05,158.90 585.19,158.10 583.11,157.30 581.55,156.50 580.54,155.72 579.64,154.95 579.00,154.18 578.75,153.40 578.94,152.60 579.43,151.80 580.08,151.00 580.75,150.20 581.52,149.40 582.47,148.60 583.43,147.80 584.25,147.00 584.88,146.22 585.44,145.43 585.95,144.65 586.45,143.87 586.98,143.08 587.55,142.30 588.18,141.60 588.89,140.90 589.53,140.20 589.95,139.50 590.24,138.67 590.46,137.83 590.55,137.00 590.34,136.17 589.92,135.33 589.55,134.50 589.31,133.70 589.09,132.90 588.92,132.10 588.85,131.30 588.88,130.58 588.96,129.87 589.08,129.15 589.23,128.43 589.39,127.72 589.55,127.00 589.78,126.25 590.09,125.50 590.37,124.75 590.55,124.00 590.65,123.20 590.73,122.40 590.79,121.60 590.83,120.80 590.85,120.00 590.85,119.29 590.85,118.57 590.85,117.86 590.85,117.14 590.85,116.43 590.85,115.71 590.85,115.00 590.85,114.29 590.85,113.57 590.85,112.86 590.85,112.14 590.85,111.43 590.85,110.71 590.85,110.00 590.85,109.29 590.85,108.57 590.85,107.86 590.85,107.14 590.85,106.43 590.85,105.71 590.85,105.00 590.85,104.29 590.85,103.57 590.85,102.86 590.85,102.14 590.85,101.43 590.85,100.71 590.85,100.00 590.85,99.29 590.85,98.57 590.85,97.86 590.85,97.14 590.85,96.43 590.85,95.71 590.85,95.00 590.85,94.29 590.85,93.57 590.85,92.86 590.85,92.14 590.85,91.43 590.85,90.71 590.85,90.00 590.85,89.29 590.85,88.59 590.85,87.88 590.85,87.18 590.85,86.47 590.85,85.76 590.85,85.06 590.85,84.35 590.85,83.65 590.85,82.94 590.85,82.24 590.85,81.53 590.85,80.82 590.85,80.12 590.85,79.41 590.85,78.71 590.85,78.00 590.77,77.20 590.57,76.40 590.33,75.60 590.13,74.80 590.05,74.00 590.09,73.20 590.20,72.40 590.34,71.60 590.50,70.80 590.65,70.00 590.82,69.00 591.00,68.00 Z" fill="#6b6b6b" stroke="#000" stroke-width="2.3" stroke-linejoin="round"/>
<line x1="586.29" y1="145.50" x2="595.71" y2="145.50" stroke="#3a3a3a" stroke-width="0.75" stroke-dasharray="1.7 1.3"/>
<line x1="580.17" y1="154.50" x2="601.83" y2="154.50" stroke="#3a3a3a" stroke-width="0.75" stroke-dasharray="1.7 1.3"/>
<line x1="580.57" y1="151.50" x2="601.43" y2="151.50" stroke="#111" stroke-width="0.95" stroke-dasharray="2.3 1.3"/>
<path d="M634.20,51.40 634.23,52.12 634.25,52.84 634.28,53.56 634.31,54.28 634.35,55.00 634.40,55.71 634.47,56.43 634.54,57.14 634.63,57.86 634.71,58.57 634.78,59.29 634.85,60.00 634.91,60.71 634.98,61.42 635.05,62.14 635.11,62.85 635.16,63.56 635.21,64.28 635.24,64.99 635.25,65.70 635.22,66.46 635.15,67.21 635.05,67.97 634.94,68.73 634.82,69.49 634.72,70.24 634.65,71.00 634.60,71.71 634.55,72.42 634.49,73.14 634.45,73.85 634.41,74.56 634.38,75.28 634.36,75.99 634.35,76.70 634.35,77.45 634.37,78.21 634.39,78.96 634.41,79.72 634.44,80.47 634.46,81.23 634.49,81.98 634.51,82.74 634.53,83.49 634.55,84.25 634.55,85.00 634.55,85.75 634.53,86.51 634.51,87.26 634.49,88.02 634.46,88.77 634.44,89.53 634.41,90.28 634.39,91.04 634.37,91.79 634.35,92.55 634.35,93.30 634.35,94.04 634.36,94.79 634.38,95.53 634.39,96.28 634.41,97.02 634.42,97.77 634.44,98.51 634.45,99.26 634.45,100.00 634.45,100.71 634.45,101.43 634.45,102.14 634.45,102.86 634.45,103.57 634.45,104.29 634.45,105.00 634.48,105.70 634.54,106.40 634.64,107.10 634.75,107.80 634.85,108.50 634.97,109.20 635.10,109.90 635.25,110.60 635.37,111.30 635.45,112.00 635.51,112.80 635.57,113.60 635.61,114.40 635.64,115.20 635.65,116.00 635.65,116.73 635.65,117.45 635.65,118.18 635.65,118.91 635.65,119.64 635.65,120.36 635.65,121.09 635.65,121.82 635.65,122.55 635.65,123.27 635.65,124.00 635.64,124.75 635.60,125.50 635.56,126.25 635.50,127.00 635.44,127.75 635.40,128.50 635.36,129.25 635.35,130.00 635.37,130.80 635.41,131.60 635.48,132.40 635.56,133.20 635.65,134.00 635.76,134.80 635.92,135.60 636.11,136.40 636.32,137.20 636.55,138.00 636.78,138.72 637.03,139.43 637.32,140.15 637.64,140.87 637.98,141.58 638.35,142.30 638.79,143.08 639.30,143.87 639.85,144.65 640.45,145.43 641.08,146.22 641.75,147.00 642.56,147.80 643.50,148.60 644.42,149.40 645.15,150.20 645.76,151.00 646.34,151.80 646.78,152.60 646.95,153.40 646.76,154.18 646.27,154.95 645.59,155.72 644.85,156.50 643.84,157.30 642.48,158.10 641.04,158.90 639.75,159.70 638.60,160.47 637.46,161.25 636.48,162.03 635.85,162.80 635.49,163.57 635.21,164.34 634.98,165.11 634.79,165.89 634.60,166.66 634.42,167.43 634.20,168.20 L634.20,168.20 633.98,167.43 633.80,166.66 633.61,165.89 633.42,165.11 633.19,164.34 632.91,163.57 632.55,162.80 631.92,162.03 630.94,161.25 629.80,160.47 628.65,159.70 627.36,158.90 625.92,158.10 624.56,157.30 623.55,156.50 622.81,155.72 622.13,154.95 621.64,154.18 621.45,153.40 621.62,152.60 622.06,151.80 622.64,151.00 623.25,150.20 623.98,149.40 624.90,148.60 625.84,147.80 626.65,147.00 627.32,146.22 627.95,145.43 628.55,144.65 629.10,143.87 629.61,143.08 630.05,142.30 630.42,141.58 630.76,140.87 631.08,140.15 631.37,139.43 631.62,138.72 631.85,138.00 632.08,137.20 632.29,136.40 632.48,135.60 632.64,134.80 632.75,134.00 632.84,133.20 632.92,132.40 632.99,131.60 633.03,130.80 633.05,130.00 633.04,129.25 633.00,128.50 632.96,127.75 632.90,127.00 632.84,126.25 632.80,125.50 632.76,124.75 632.75,124.00 632.75,123.27 632.75,122.55 632.75,121.82 632.75,121.09 632.75,120.36 632.75,119.64 632.75,118.91 632.75,118.18 632.75,117.45 632.75,116.73 632.75,116.00 632.76,115.20 632.79,114.40 632.83,113.60 632.89,112.80 632.95,112.00 633.03,111.30 633.15,110.60 633.30,109.90 633.43,109.20 633.55,108.50 633.65,107.80 633.76,107.10 633.86,106.40 633.92,105.70 633.95,105.00 633.95,104.29 633.95,103.57 633.95,102.86 633.95,102.14 633.95,101.43 633.95,100.71 633.95,100.00 633.95,99.26 633.96,98.51 633.98,97.77 633.99,97.02 634.01,96.28 634.02,95.53 634.04,94.79 634.05,94.04 634.05,93.30 634.05,92.55 634.03,91.79 634.01,91.04 633.99,90.28 633.96,89.53 633.94,88.77 633.91,88.02 633.89,87.26 633.87,86.51 633.85,85.75 633.85,85.00 633.85,84.25 633.87,83.49 633.89,82.74 633.91,81.98 633.94,81.23 633.96,80.47 633.99,79.72 634.01,78.96 634.03,78.21 634.05,77.45 634.05,76.70 634.04,75.99 634.02,75.28 633.99,74.56 633.95,73.85 633.91,73.14 633.85,72.42 633.80,71.71 633.75,71.00 633.68,70.24 633.58,69.49 633.46,68.73 633.35,67.97 633.25,67.21 633.18,66.46 633.15,65.70 633.16,64.99 633.19,64.28 633.24,63.56 633.29,62.85 633.35,62.14 633.42,61.42 633.49,60.71 633.55,60.00 633.62,59.29 633.69,58.57 633.77,57.86 633.86,57.14 633.93,56.43 634.00,55.71 634.05,55.00 634.09,54.28 634.12,53.56 634.15,52.84 634.17,52.12 634.20,51.40 Z" fill="#a2a2a2" stroke="#000" stroke-width="2.3" stroke-linejoin="round"/>
<line x1="622.75" y1="154.50" x2="645.65" y2="154.50" stroke="#3a3a3a" stroke-width="0.75" stroke-dasharray="1.7 1.3"/>
<line x1="623.17" y1="151.50" x2="645.23" y2="151.50" stroke="#111" stroke-width="0.95" stroke-dasharray="2.3 1.3"/>
<line x1="45.80" y1="299.50" x2="45.80" y2="450.60" stroke="#000" stroke-width="1.7" />
<line x1="39.50" y1="449.80" x2="145.30" y2="449.80" stroke="#000" stroke-width="1.7" />
<line x1="39.50" y1="300.30" x2="45.80" y2="300.30" stroke="#000" stroke-width="1.6" />
<text x="37.50" y="304.48" font-size="11.6" font-weight="bold" text-anchor="end" >8</text>
<line x1="39.50" y1="330.20" x2="45.80" y2="330.20" stroke="#000" stroke-width="1.6" />
<text x="37.50" y="334.38" font-size="11.6" font-weight="bold" text-anchor="end" >6</text>
<line x1="39.50" y1="360.10" x2="45.80" y2="360.10" stroke="#000" stroke-width="1.6" />
<text x="37.50" y="364.28" font-size="11.6" font-weight="bold" text-anchor="end" >4</text>
<line x1="39.50" y1="390.00" x2="45.80" y2="390.00" stroke="#000" stroke-width="1.6" />
<text x="37.50" y="394.18" font-size="11.6" font-weight="bold" text-anchor="end" >2</text>
<line x1="39.50" y1="419.90" x2="45.80" y2="419.90" stroke="#000" stroke-width="1.6" />
<text x="37.50" y="424.08" font-size="11.6" font-weight="bold" text-anchor="end" >0</text>
<line x1="39.50" y1="449.80" x2="45.80" y2="449.80" stroke="#000" stroke-width="1.6" />
<text x="37.50" y="453.98" font-size="11.6" font-weight="bold" text-anchor="end" >-2</text>
<line x1="74.50" y1="449.80" x2="74.50" y2="455.60" stroke="#000" stroke-width="1.6" />
<line x1="116.90" y1="449.80" x2="116.90" y2="455.60" stroke="#000" stroke-width="1.6" />
<line x1="47.30" y1="419.90" x2="145.30" y2="419.90" stroke="#000" stroke-width="1.3" stroke-dasharray="1.6 1.45"/>
<text x="0.80" y="305.50" font-size="12.6" font-weight="bold" text-anchor="start" >E</text>
<text x="16.00" y="375.00" font-size="12.3" font-weight="bold" text-anchor="middle" transform="rotate(-90 16.00 375.00)" dominant-baseline="central">ISR</text>
<text x="50.80" y="266.60" font-size="14.2" font-weight="bold" text-anchor="start" >anti-CMV IgG</text>
<text x="49.70" y="294.40" font-size="12.2" font-weight="normal" class="r" style="white-space:pre">p=0.389, p<tspan font-size="8.8" dy="-4.7">corr</tspan><tspan dy="4.7">&gt;0.999</tspan></text>
<path d="M75.20,308.40 L75.20,299.90 L117.90,299.90 L117.90,308.40" fill="none" stroke="#000" stroke-width="2.2" stroke-linejoin="miter"/>
<text x="76.90" y="466.00" font-size="11.2" font-weight="bold" text-anchor="end" transform="rotate(-45 76.90 466.00)">Relapse</text>
<text x="119.30" y="466.00" font-size="11.2" font-weight="bold" text-anchor="end" transform="rotate(-45 119.30 466.00)">Remission</text>
<path d="M74.40,314.30 74.48,315.15 74.55,316.00 74.58,316.80 74.60,317.60 74.61,318.40 74.63,319.20 74.65,320.00 74.68,320.75 74.73,321.50 74.79,322.25 74.85,323.00 74.92,323.82 75.01,324.65 75.11,325.48 75.25,326.30 75.50,327.20 75.85,328.10 76.25,329.00 76.57,329.70 76.93,330.40 77.32,331.10 77.75,331.80 78.47,332.80 79.25,333.80 80.00,334.80 80.75,335.80 81.51,336.80 82.25,337.80 82.95,338.75 83.55,339.70 83.94,340.50 84.28,341.30 84.59,342.10 84.85,342.90 85.05,343.70 85.21,344.48 85.34,345.26 85.45,346.04 85.55,346.82 85.65,347.60 85.75,348.38 85.86,349.16 85.96,349.94 86.02,350.72 86.05,351.50 86.04,352.22 86.01,352.94 85.97,353.67 85.92,354.39 85.88,355.11 85.83,355.83 85.79,356.56 85.76,357.28 85.75,358.00 85.75,358.79 85.75,359.57 85.75,360.36 85.75,361.14 85.75,361.93 85.75,362.71 85.75,363.50 85.76,364.29 85.77,365.07 85.79,365.86 85.81,366.64 85.83,367.43 85.84,368.21 85.85,369.00 85.82,369.73 85.74,370.45 85.63,371.18 85.49,371.90 85.33,372.62 85.16,373.35 85.00,374.07 84.85,374.80 84.67,375.62 84.45,376.43 84.24,377.25 84.04,378.07 83.90,378.88 83.85,379.70 83.88,380.48 83.95,381.26 84.06,382.04 84.20,382.82 84.35,383.60 84.61,384.40 85.03,385.20 85.50,386.00 85.93,386.80 86.25,387.60 86.46,388.33 86.65,389.05 86.79,389.77 86.85,390.50 86.69,391.50 86.35,392.50 85.72,393.50 84.85,394.50 83.90,395.50 82.85,396.50 81.75,397.45 80.65,398.40 79.80,399.15 78.95,399.90 78.19,400.65 77.65,401.40 77.26,402.18 76.92,402.96 76.65,403.74 76.42,404.52 76.25,405.30 76.12,406.10 76.02,406.90 75.94,407.70 75.85,408.50 75.75,409.30 75.64,410.04 75.53,410.78 75.41,411.52 75.28,412.26 75.15,413.00 74.98,413.77 74.78,414.55 74.62,415.33 74.55,416.10 74.55,416.84 74.55,417.58 74.55,418.31 74.55,419.05 74.55,419.79 74.55,420.52 74.55,421.26 74.55,422.00 74.54,422.70 74.52,423.40 74.49,424.10 74.46,424.80 74.43,425.50 74.40,426.20 L74.40,426.20 74.37,425.50 74.34,424.80 74.31,424.10 74.28,423.40 74.26,422.70 74.25,422.00 74.25,421.26 74.25,420.52 74.25,419.79 74.25,419.05 74.25,418.31 74.25,417.58 74.25,416.84 74.25,416.10 74.18,415.33 74.02,414.55 73.82,413.77 73.65,413.00 73.52,412.26 73.39,411.52 73.27,410.78 73.16,410.04 73.05,409.30 72.95,408.50 72.86,407.70 72.78,406.90 72.68,406.10 72.55,405.30 72.38,404.52 72.15,403.74 71.88,402.96 71.54,402.18 71.15,401.40 70.61,400.65 69.85,399.90 69.00,399.15 68.15,398.40 67.05,397.45 65.95,396.50 64.90,395.50 63.95,394.50 63.08,393.50 62.45,392.50 62.11,391.50 61.95,390.50 62.01,389.77 62.15,389.05 62.34,388.33 62.55,387.60 62.87,386.80 63.30,386.00 63.77,385.20 64.19,384.40 64.45,383.60 64.60,382.82 64.74,382.04 64.85,381.26 64.92,380.48 64.95,379.70 64.90,378.88 64.76,378.07 64.56,377.25 64.35,376.43 64.13,375.62 63.95,374.80 63.80,374.07 63.64,373.35 63.47,372.62 63.31,371.90 63.17,371.18 63.06,370.45 62.98,369.73 62.95,369.00 62.96,368.21 62.97,367.43 62.99,366.64 63.01,365.86 63.03,365.07 63.04,364.29 63.05,363.50 63.05,362.71 63.05,361.93 63.05,361.14 63.05,360.36 63.05,359.57 63.05,358.79 63.05,358.00 63.04,357.28 63.01,356.56 62.97,355.83 62.92,355.11 62.88,354.39 62.83,353.67 62.79,352.94 62.76,352.22 62.75,351.50 62.78,350.72 62.84,349.94 62.94,349.16 63.05,348.38 63.15,347.60 63.25,346.82 63.35,346.04 63.46,345.26 63.59,344.48 63.75,343.70 63.95,342.90 64.21,342.10 64.52,341.30 64.86,340.50 65.25,339.70 65.85,338.75 66.55,337.80 67.29,336.80 68.05,335.80 68.80,334.80 69.55,333.80 70.33,332.80 71.05,331.80 71.48,331.10 71.87,330.40 72.23,329.70 72.55,329.00 72.95,328.10 73.30,327.20 73.55,326.30 73.69,325.48 73.79,324.65 73.88,323.82 73.95,323.00 74.01,322.25 74.07,321.50 74.12,320.75 74.15,320.00 74.17,319.20 74.19,318.40 74.20,317.60 74.22,316.80 74.25,316.00 74.32,315.15 74.40,314.30 Z" fill="#6b6b6b" stroke="#000" stroke-width="2.3" stroke-linejoin="round"/>
<line x1="63.67" y1="352.50" x2="85.13" y2="352.50" stroke="#3a3a3a" stroke-width="0.75" stroke-dasharray="1.7 1.3"/>
<line x1="63.49" y1="387.50" x2="85.31" y2="387.50" stroke="#3a3a3a" stroke-width="0.75" stroke-dasharray="1.7 1.3"/>
<line x1="63.96" y1="370.50" x2="84.84" y2="370.50" stroke="#111" stroke-width="0.95" stroke-dasharray="2.3 1.3"/>
<path d="M117.20,313.00 117.29,314.00 117.35,315.00 117.37,315.71 117.39,316.43 117.40,317.14 117.41,317.86 117.42,318.57 117.43,319.29 117.45,320.00 117.47,320.75 117.49,321.50 117.52,322.25 117.55,323.00 117.60,323.77 117.66,324.53 117.75,325.30 117.97,326.20 118.31,327.10 118.65,328.00 118.87,328.70 119.09,329.40 119.32,330.10 119.55,330.80 119.82,331.53 120.10,332.27 120.35,333.00 120.58,333.83 120.79,334.67 120.95,335.50 121.06,336.33 121.15,337.17 121.25,338.00 121.36,338.73 121.48,339.47 121.65,340.20 121.95,341.00 122.35,341.80 122.80,342.60 123.35,343.40 124.06,344.20 124.85,345.00 125.62,345.75 126.35,346.50 126.94,347.25 127.45,348.00 128.00,348.85 128.45,349.70 128.79,350.45 129.11,351.20 129.36,351.95 129.45,352.70 129.38,353.50 129.21,354.30 128.95,355.10 128.65,355.90 128.23,356.60 127.64,357.30 127.05,358.00 126.30,358.95 125.65,359.90 125.20,360.70 124.81,361.50 124.65,362.30 124.72,363.07 124.88,363.83 125.05,364.60 125.21,365.33 125.41,366.06 125.62,366.79 125.82,367.51 125.99,368.24 126.11,368.97 126.15,369.70 126.12,370.40 126.05,371.10 125.95,371.80 125.85,372.50 125.75,373.20 125.68,373.90 125.65,374.60 125.65,375.31 125.65,376.03 125.65,376.74 125.65,377.45 125.65,378.16 125.65,378.88 125.65,379.59 125.65,380.30 125.57,381.14 125.38,381.98 125.09,382.82 124.77,383.66 124.45,384.50 124.10,385.33 123.69,386.17 123.25,387.00 122.78,387.80 122.27,388.60 121.75,389.40 121.29,390.10 120.81,390.80 120.35,391.50 119.77,392.40 119.25,393.30 118.88,394.03 118.54,394.77 118.25,395.50 117.94,396.40 117.75,397.30 117.69,398.01 117.63,398.72 117.58,399.43 117.54,400.14 117.51,400.86 117.48,401.57 117.47,402.28 117.45,402.99 117.45,403.70 117.46,404.47 117.49,405.23 117.53,406.00 117.58,406.77 117.62,407.53 117.67,408.30 117.71,409.07 117.74,409.83 117.75,410.60 117.75,411.37 117.75,412.13 117.75,412.90 117.75,413.67 117.75,414.43 117.75,415.20 117.75,415.97 117.75,416.73 117.75,417.50 117.74,418.27 117.71,419.03 117.66,419.80 117.61,420.57 117.55,421.33 117.48,422.10 117.43,422.87 117.38,423.63 117.35,424.40 117.33,425.13 117.31,425.86 117.29,426.59 117.28,427.32 117.27,428.05 117.25,428.78 117.24,429.51 117.23,430.24 117.21,430.97 117.20,431.70 L117.20,431.70 117.19,430.97 117.17,430.24 117.16,429.51 117.15,428.78 117.13,428.05 117.12,427.32 117.11,426.59 117.09,425.86 117.07,425.13 117.05,424.40 117.02,423.63 116.97,422.87 116.92,422.10 116.85,421.33 116.79,420.57 116.74,419.80 116.69,419.03 116.66,418.27 116.65,417.50 116.65,416.73 116.65,415.97 116.65,415.20 116.65,414.43 116.65,413.67 116.65,412.90 116.65,412.13 116.65,411.37 116.65,410.60 116.66,409.83 116.69,409.07 116.73,408.30 116.78,407.53 116.82,406.77 116.87,406.00 116.91,405.23 116.94,404.47 116.95,403.70 116.95,402.99 116.93,402.28 116.92,401.57 116.89,400.86 116.86,400.14 116.82,399.43 116.77,398.72 116.71,398.01 116.65,397.30 116.46,396.40 116.15,395.50 115.86,394.77 115.52,394.03 115.15,393.30 114.63,392.40 114.05,391.50 113.59,390.80 113.11,390.10 112.65,389.40 112.13,388.60 111.62,387.80 111.15,387.00 110.71,386.17 110.30,385.33 109.95,384.50 109.63,383.66 109.31,382.82 109.02,381.98 108.83,381.14 108.75,380.30 108.75,379.59 108.75,378.88 108.75,378.16 108.75,377.45 108.75,376.74 108.75,376.03 108.75,375.31 108.75,374.60 108.72,373.90 108.65,373.20 108.55,372.50 108.45,371.80 108.35,371.10 108.28,370.40 108.25,369.70 108.29,368.97 108.41,368.24 108.58,367.51 108.78,366.79 108.99,366.06 109.19,365.33 109.35,364.60 109.52,363.83 109.68,363.07 109.75,362.30 109.59,361.50 109.20,360.70 108.75,359.90 108.10,358.95 107.35,358.00 106.76,357.30 106.17,356.60 105.75,355.90 105.45,355.10 105.19,354.30 105.02,353.50 104.95,352.70 105.04,351.95 105.29,351.20 105.61,350.45 105.95,349.70 106.40,348.85 106.95,348.00 107.46,347.25 108.05,346.50 108.78,345.75 109.55,345.00 110.34,344.20 111.05,343.40 111.60,342.60 112.05,341.80 112.45,341.00 112.75,340.20 112.92,339.47 113.04,338.73 113.15,338.00 113.25,337.17 113.34,336.33 113.45,335.50 113.61,334.67 113.82,333.83 114.05,333.00 114.30,332.27 114.58,331.53 114.85,330.80 115.08,330.10 115.31,329.40 115.53,328.70 115.75,328.00 116.09,327.10 116.43,326.20 116.65,325.30 116.74,324.53 116.80,323.77 116.85,323.00 116.88,322.25 116.91,321.50 116.93,320.75 116.95,320.00 116.97,319.29 116.98,318.57 116.99,317.86 117.00,317.14 117.01,316.43 117.03,315.71 117.05,315.00 117.11,314.00 117.20,313.00 Z" fill="#a2a2a2" stroke="#000" stroke-width="2.3" stroke-linejoin="round"/>
<line x1="105.88" y1="352.50" x2="128.52" y2="352.50" stroke="#3a3a3a" stroke-width="0.75" stroke-dasharray="1.7 1.3"/>
<line x1="109.67" y1="380.50" x2="124.73" y2="380.50" stroke="#3a3a3a" stroke-width="0.75" stroke-dasharray="1.7 1.3"/>
<line x1="110.27" y1="364.50" x2="124.13" y2="364.50" stroke="#111" stroke-width="0.95" stroke-dasharray="2.3 1.3"/>
<line x1="228.60" y1="300.10" x2="228.60" y2="450.50" stroke="#000" stroke-width="1.7" />
<line x1="222.30" y1="449.70" x2="328.10" y2="449.70" stroke="#000" stroke-width="1.7" />
<line x1="222.30" y1="300.90" x2="228.60" y2="300.90" stroke="#000" stroke-width="1.6" />
<text x="220.60" y="305.08" font-size="11.6" font-weight="bold" text-anchor="end" >2.5</text>
<line x1="222.30" y1="330.66" x2="228.60" y2="330.66" stroke="#000" stroke-width="1.6" />
<text x="220.60" y="334.84" font-size="11.6" font-weight="bold" text-anchor="end" >2.0</text>
<line x1="222.30" y1="360.42" x2="228.60" y2="360.42" stroke="#000" stroke-width="1.6" />
<text x="220.60" y="364.60" font-size="11.6" font-weight="bold" text-anchor="end" >1.5</text>
<line x1="222.30" y1="390.18" x2="228.60" y2="390.18" stroke="#000" stroke-width="1.6" />
<text x="220.60" y="394.36" font-size="11.6" font-weight="bold" text-anchor="end" >1.0</text>
<line x1="222.30" y1="419.94" x2="228.60" y2="419.94" stroke="#000" stroke-width="1.6" />
<text x="220.60" y="424.12" font-size="11.6" font-weight="bold" text-anchor="end" >0.5</text>
<line x1="222.30" y1="449.70" x2="228.60" y2="449.70" stroke="#000" stroke-width="1.6" />
<text x="220.60" y="453.88" font-size="11.6" font-weight="bold" text-anchor="end" >0.0</text>
<line x1="257.60" y1="449.70" x2="257.60" y2="455.50" stroke="#000" stroke-width="1.6" />
<line x1="299.90" y1="449.70" x2="299.90" y2="455.50" stroke="#000" stroke-width="1.6" />
<text x="177.00" y="305.20" font-size="12.6" font-weight="bold" text-anchor="start" >F</text>
<text x="193.50" y="375.30" font-size="12.3" font-weight="bold" text-anchor="middle" transform="rotate(-90 193.50 375.30)" dominant-baseline="central">ISR</text>
<text x="226.80" y="261.60" font-size="14.2" font-weight="bold" text-anchor="start" >anti-EBNA1 IgG</text>
<text x="234.70" y="283.80" font-size="12.2" font-weight="normal" class="r" style="white-space:pre">p=0.374, p<tspan font-size="8.8" dy="-4.7">corr</tspan><tspan dy="4.7">&gt;0.999</tspan></text>
<path d="M257.70,299.70 L257.70,291.70 L304.60,291.70 L304.60,299.70" fill="none" stroke="#000" stroke-width="2.2" stroke-linejoin="miter"/>
<text x="260.00" y="465.90" font-size="11.2" font-weight="bold" text-anchor="end" transform="rotate(-45 260.00 465.90)">Relapse</text>
<text x="302.30" y="465.90" font-size="11.2" font-weight="bold" text-anchor="end" transform="rotate(-45 302.30 465.90)">Remission</text>
<path d="M257.10,314.90 257.16,315.60 257.22,316.30 257.25,317.00 257.25,317.83 257.25,318.67 257.25,319.50 257.48,320.25 257.95,321.00 258.30,321.40 258.75,321.80 259.50,322.40 260.35,323.00 261.29,323.60 262.25,324.20 263.45,325.00 264.60,325.80 265.65,326.60 266.56,327.37 267.40,328.13 268.15,328.90 269.18,329.90 269.75,330.90 269.56,331.60 269.15,332.30 268.49,333.00 267.75,333.70 267.18,334.48 266.69,335.25 266.22,336.02 265.75,336.80 265.29,337.53 264.83,338.27 264.35,339.00 263.66,340.00 262.95,341.00 262.34,341.83 261.72,342.67 261.15,343.50 260.56,344.50 260.05,345.50 259.73,346.20 259.41,346.90 259.13,347.60 258.90,348.30 258.75,349.00 258.64,349.85 258.54,350.70 258.47,351.55 258.45,352.40 258.61,353.27 258.97,354.13 259.35,355.00 259.69,355.75 260.09,356.50 260.41,357.25 260.55,358.00 260.43,358.75 260.15,359.50 259.79,360.25 259.45,361.00 259.05,361.80 258.59,362.60 258.21,363.40 258.05,364.20 258.12,364.90 258.30,365.60 258.53,366.30 258.75,367.00 259.10,367.90 259.47,368.80 259.65,369.70 259.54,370.40 259.26,371.10 258.93,371.80 258.65,372.50 258.37,373.35 258.09,374.20 257.84,375.05 257.65,375.90 257.52,376.67 257.41,377.45 257.31,378.23 257.25,379.00 257.21,379.72 257.18,380.44 257.15,381.16 257.13,381.88 257.10,382.60 L257.10,382.60 257.07,381.88 257.05,381.16 257.02,380.44 256.99,379.72 256.95,379.00 256.89,378.23 256.79,377.45 256.68,376.67 256.55,375.90 256.36,375.05 256.11,374.20 255.83,373.35 255.55,372.50 255.27,371.80 254.94,371.10 254.66,370.40 254.55,369.70 254.73,368.80 255.10,367.90 255.45,367.00 255.67,366.30 255.90,365.60 256.08,364.90 256.15,364.20 255.99,363.40 255.61,362.60 255.15,361.80 254.75,361.00 254.41,360.25 254.05,359.50 253.77,358.75 253.65,358.00 253.79,357.25 254.11,356.50 254.51,355.75 254.85,355.00 255.23,354.13 255.59,353.27 255.75,352.40 255.73,351.55 255.66,350.70 255.56,349.85 255.45,349.00 255.30,348.30 255.07,347.60 254.79,346.90 254.47,346.20 254.15,345.50 253.64,344.50 253.05,343.50 252.48,342.67 251.86,341.83 251.25,341.00 250.54,340.00 249.85,339.00 249.37,338.27 248.91,337.53 248.45,336.80 247.98,336.02 247.51,335.25 247.02,334.48 246.45,333.70 245.71,333.00 245.05,332.30 244.65,331.60 244.45,330.90 245.02,329.90 246.05,328.90 246.80,328.13 247.64,327.37 248.55,326.60 249.60,325.80 250.75,325.00 251.95,324.20 252.91,323.60 253.85,323.00 254.70,322.40 255.45,321.80 255.90,321.40 256.25,321.00 256.72,320.25 256.95,319.50 256.95,318.67 256.95,317.83 256.95,317.00 256.98,316.30 257.04,315.60 257.10,314.90 Z" fill="#6b6b6b" stroke="#000" stroke-width="2.3" stroke-linejoin="round"/>
<line x1="245.58" y1="330.50" x2="268.62" y2="330.50" stroke="#3a3a3a" stroke-width="0.75" stroke-dasharray="1.7 1.3"/>
<line x1="255.05" y1="345.50" x2="259.15" y2="345.50" stroke="#3a3a3a" stroke-width="0.75" stroke-dasharray="1.7 1.3"/>
<line x1="249.79" y1="337.50" x2="264.41" y2="337.50" stroke="#111" stroke-width="0.95" stroke-dasharray="2.3 1.3"/>
<path d="M299.90,315.10 299.98,316.05 300.05,317.00 300.08,317.82 300.09,318.65 300.11,319.48 300.15,320.30 300.44,321.15 300.95,322.00 301.40,322.70 301.95,323.40 302.79,324.20 303.75,325.00 304.70,325.80 305.65,326.60 306.56,327.38 307.48,328.15 308.36,328.93 309.15,329.70 309.90,330.50 310.59,331.30 311.15,332.10 311.64,332.87 312.07,333.63 312.25,334.40 312.07,335.20 311.65,336.00 311.15,336.80 310.48,337.65 309.65,338.50 308.87,339.25 308.05,340.00 307.19,340.77 306.30,341.55 305.49,342.33 304.85,343.10 304.35,343.90 303.93,344.70 303.56,345.50 303.25,346.30 302.99,347.07 302.76,347.85 302.55,348.62 302.35,349.40 302.12,350.27 301.90,351.13 301.75,352.00 301.65,352.90 301.58,353.80 301.55,354.70 301.61,355.47 301.76,356.23 301.95,357.00 302.14,357.77 302.29,358.53 302.35,359.30 302.29,360.07 302.14,360.83 301.91,361.60 301.64,362.37 301.36,363.13 301.09,363.90 300.86,364.67 300.71,365.43 300.65,366.20 300.70,366.96 300.83,367.72 301.01,368.48 301.19,369.24 301.35,370.00 301.50,370.76 301.65,371.52 301.80,372.28 301.91,373.04 301.95,373.80 301.85,374.60 301.62,375.40 301.32,376.20 301.05,377.00 300.79,377.75 300.51,378.50 300.27,379.25 300.15,380.00 300.12,380.71 300.10,381.43 300.08,382.14 300.07,382.86 300.06,383.57 300.05,384.29 300.05,385.00 300.05,385.71 300.05,386.43 300.05,387.14 300.05,387.86 300.05,388.57 300.05,389.29 300.05,390.00 300.08,390.74 300.17,391.49 300.29,392.23 300.41,392.97 300.53,393.71 300.62,394.46 300.65,395.20 300.61,396.00 300.51,396.80 300.37,397.60 300.23,398.40 300.12,399.20 300.05,400.00 300.02,400.73 300.00,401.47 299.98,402.20 299.97,402.93 299.95,403.67 299.94,404.40 299.93,405.13 299.92,405.87 299.90,406.60 L299.90,406.60 299.88,405.87 299.87,405.13 299.86,404.40 299.85,403.67 299.83,402.93 299.82,402.20 299.80,401.47 299.78,400.73 299.75,400.00 299.68,399.20 299.57,398.40 299.43,397.60 299.29,396.80 299.19,396.00 299.15,395.20 299.18,394.46 299.27,393.71 299.39,392.97 299.51,392.23 299.63,391.49 299.72,390.74 299.75,390.00 299.75,389.29 299.75,388.57 299.75,387.86 299.75,387.14 299.75,386.43 299.75,385.71 299.75,385.00 299.75,384.29 299.74,383.57 299.73,382.86 299.72,382.14 299.70,381.43 299.68,380.71 299.65,380.00 299.53,379.25 299.29,378.50 299.01,377.75 298.75,377.00 298.48,376.20 298.18,375.40 297.95,374.60 297.85,373.80 297.89,373.04 298.00,372.28 298.15,371.52 298.30,370.76 298.45,370.00 298.61,369.24 298.79,368.48 298.97,367.72 299.10,366.96 299.15,366.20 299.09,365.43 298.94,364.67 298.71,363.90 298.44,363.13 298.16,362.37 297.89,361.60 297.66,360.83 297.51,360.07 297.45,359.30 297.51,358.53 297.66,357.77 297.85,357.00 298.04,356.23 298.19,355.47 298.25,354.70 298.22,353.80 298.15,352.90 298.05,352.00 297.90,351.13 297.68,350.27 297.45,349.40 297.25,348.62 297.04,347.85 296.81,347.07 296.55,346.30 296.24,345.50 295.87,344.70 295.45,343.90 294.95,343.10 294.31,342.33 293.50,341.55 292.61,340.77 291.75,340.00 290.93,339.25 290.15,338.50 289.32,337.65 288.65,336.80 288.15,336.00 287.73,335.20 287.55,334.40 287.73,333.63 288.16,332.87 288.65,332.10 289.21,331.30 289.90,330.50 290.65,329.70 291.44,328.93 292.32,328.15 293.24,327.38 294.15,326.60 295.10,325.80 296.05,325.00 297.01,324.20 297.85,323.40 298.40,322.70 298.85,322.00 299.36,321.15 299.65,320.30 299.69,319.48 299.71,318.65 299.72,317.82 299.75,317.00 299.82,316.05 299.90,315.10 Z" fill="#a2a2a2" stroke="#000" stroke-width="2.3" stroke-linejoin="round"/>
<line x1="288.71" y1="333.50" x2="311.09" y2="333.50" stroke="#3a3a3a" stroke-width="0.75" stroke-dasharray="1.7 1.3"/>
<line x1="298.38" y1="349.50" x2="301.42" y2="349.50" stroke="#3a3a3a" stroke-width="0.75" stroke-dasharray="1.7 1.3"/>
<line x1="289.36" y1="336.50" x2="310.44" y2="336.50" stroke="#111" stroke-width="0.95" stroke-dasharray="2.3 1.3"/>
<line x1="400.00" y1="299.30" x2="400.00" y2="450.50" stroke="#000" stroke-width="1.7" />
<line x1="393.70" y1="449.70" x2="499.50" y2="449.70" stroke="#000" stroke-width="1.7" />
<line x1="393.70" y1="300.10" x2="400.00" y2="300.10" stroke="#000" stroke-width="1.6" />
<text x="391.80" y="304.28" font-size="11.6" font-weight="bold" text-anchor="end" >10</text>
<line x1="393.70" y1="325.03" x2="400.00" y2="325.03" stroke="#000" stroke-width="1.6" />
<text x="391.80" y="329.21" font-size="11.6" font-weight="bold" text-anchor="end" >8</text>
<line x1="393.70" y1="349.96" x2="400.00" y2="349.96" stroke="#000" stroke-width="1.6" />
<text x="391.80" y="354.14" font-size="11.6" font-weight="bold" text-anchor="end" >6</text>
<line x1="393.70" y1="374.89" x2="400.00" y2="374.89" stroke="#000" stroke-width="1.6" />
<text x="391.80" y="379.07" font-size="11.6" font-weight="bold" text-anchor="end" >4</text>
<line x1="393.70" y1="399.82" x2="400.00" y2="399.82" stroke="#000" stroke-width="1.6" />
<text x="391.80" y="404.00" font-size="11.6" font-weight="bold" text-anchor="end" >2</text>
<line x1="393.70" y1="424.75" x2="400.00" y2="424.75" stroke="#000" stroke-width="1.6" />
<text x="391.80" y="428.93" font-size="11.6" font-weight="bold" text-anchor="end" >0</text>
<line x1="393.70" y1="449.68" x2="400.00" y2="449.68" stroke="#000" stroke-width="1.6" />
<text x="391.80" y="453.86" font-size="11.6" font-weight="bold" text-anchor="end" >-2</text>
<line x1="428.00" y1="449.70" x2="428.00" y2="455.50" stroke="#000" stroke-width="1.6" />
<line x1="471.40" y1="449.70" x2="471.40" y2="455.50" stroke="#000" stroke-width="1.6" />
<text x="351.90" y="305.10" font-size="12.6" font-weight="bold" text-anchor="start" >G</text>
<text x="367.30" y="374.70" font-size="12.3" font-weight="bold" text-anchor="middle" transform="rotate(-90 367.30 374.70)" dominant-baseline="central">ISR</text>
<text x="408.10" y="261.00" font-size="14.2" font-weight="bold" text-anchor="start" >anti-VCA IgG</text>
<text x="402.30" y="283.00" font-size="12.2" font-weight="normal" class="r" style="white-space:pre">p=0.913,  p<tspan font-size="8.8" dy="-4.7">corr</tspan><tspan dy="4.7">&gt;0.999</tspan></text>
<path d="M428.90,299.00 L428.90,290.80 L475.70,290.80 L475.70,299.00" fill="none" stroke="#000" stroke-width="2.2" stroke-linejoin="miter"/>
<text x="430.40" y="465.90" font-size="11.2" font-weight="bold" text-anchor="end" transform="rotate(-45 430.40 465.90)">Relapse</text>
<text x="473.80" y="465.90" font-size="11.2" font-weight="bold" text-anchor="end" transform="rotate(-45 473.80 465.90)">Remission</text>
<path d="M428.30,326.40 428.39,327.20 428.45,328.00 428.45,328.75 428.45,329.50 428.45,330.25 428.45,331.00 428.51,331.80 428.65,332.60 428.97,333.40 429.45,334.20 430.01,335.00 430.65,335.80 431.31,336.57 432.02,337.35 432.74,338.12 433.45,338.90 434.16,339.70 434.86,340.50 435.55,341.30 436.25,342.10 436.95,342.88 437.67,343.65 438.36,344.43 438.95,345.20 439.54,346.00 440.12,346.80 440.57,347.60 440.75,348.40 440.65,349.17 440.37,349.95 439.99,350.73 439.55,351.50 438.81,352.30 437.83,353.10 437.15,353.90 436.84,354.70 436.60,355.50 436.42,356.30 436.25,357.10 436.11,357.87 435.98,358.63 435.85,359.40 435.70,360.20 435.55,361.00 435.35,361.80 435.04,362.62 434.61,363.43 434.10,364.25 433.55,365.07 432.98,365.88 432.45,366.70 431.95,367.40 431.37,368.10 430.76,368.80 430.19,369.50 429.71,370.20 429.37,370.90 429.25,371.60 429.28,372.31 429.37,373.03 429.49,373.74 429.64,374.46 429.81,375.17 429.99,375.89 430.15,376.60 430.36,377.45 430.61,378.30 430.86,379.15 431.05,380.00 431.19,380.70 431.32,381.40 431.44,382.10 431.52,382.80 431.55,383.50 431.48,384.20 431.30,384.90 431.05,385.60 430.79,386.30 430.55,387.00 430.30,387.77 430.04,388.55 429.78,389.33 429.55,390.10 429.32,390.95 429.09,391.80 428.89,392.65 428.75,393.50 428.64,394.32 428.55,395.15 428.48,395.98 428.45,396.80 428.45,397.54 428.45,398.29 428.45,399.03 428.45,399.78 428.45,400.52 428.45,401.27 428.45,402.01 428.45,402.76 428.45,403.50 428.47,404.24 428.51,404.98 428.57,405.71 428.64,406.45 428.73,407.19 428.81,407.92 428.89,408.66 428.95,409.40 429.01,410.13 429.08,410.87 429.14,411.60 429.20,412.33 429.24,413.07 429.25,413.80 429.24,414.54 429.22,415.27 429.19,416.01 429.15,416.75 429.11,417.49 429.06,418.23 429.00,418.96 428.95,419.70 428.88,420.45 428.77,421.20 428.66,421.95 428.56,422.70 428.48,423.45 428.45,424.20 428.45,424.96 428.45,425.72 428.45,426.48 428.45,427.24 428.45,428.00 428.44,428.82 428.41,429.64 428.37,430.46 428.33,431.28 428.30,432.10 L428.30,432.10 428.27,431.28 428.23,430.46 428.19,429.64 428.16,428.82 428.15,428.00 428.15,427.24 428.15,426.48 428.15,425.72 428.15,424.96 428.15,424.20 428.12,423.45 428.04,422.70 427.94,421.95 427.83,421.20 427.72,420.45 427.65,419.70 427.60,418.96 427.54,418.23 427.49,417.49 427.45,416.75 427.41,416.01 427.38,415.27 427.36,414.54 427.35,413.80 427.36,413.07 427.40,412.33 427.46,411.60 427.52,410.87 427.59,410.13 427.65,409.40 427.71,408.66 427.79,407.92 427.87,407.19 427.96,406.45 428.03,405.71 428.09,404.98 428.13,404.24 428.15,403.50 428.15,402.76 428.15,402.01 428.15,401.27 428.15,400.52 428.15,399.78 428.15,399.03 428.15,398.29 428.15,397.54 428.15,396.80 428.12,395.98 428.05,395.15 427.96,394.32 427.85,393.50 427.71,392.65 427.51,391.80 427.28,390.95 427.05,390.10 426.82,389.33 426.56,388.55 426.30,387.77 426.05,387.00 425.81,386.30 425.55,385.60 425.30,384.90 425.12,384.20 425.05,383.50 425.08,382.80 425.16,382.10 425.28,381.40 425.41,380.70 425.55,380.00 425.74,379.15 425.99,378.30 426.24,377.45 426.45,376.60 426.61,375.89 426.79,375.17 426.96,374.46 427.11,373.74 427.23,373.03 427.32,372.31 427.35,371.60 427.23,370.90 426.89,370.20 426.41,369.50 425.84,368.80 425.23,368.10 424.65,367.40 424.15,366.70 423.62,365.88 423.05,365.07 422.50,364.25 421.99,363.43 421.56,362.62 421.25,361.80 421.05,361.00 420.90,360.20 420.75,359.40 420.62,358.63 420.49,357.87 420.35,357.10 420.18,356.30 420.00,355.50 419.76,354.70 419.45,353.90 418.77,353.10 417.79,352.30 417.05,351.50 416.61,350.73 416.23,349.95 415.95,349.17 415.85,348.40 416.03,347.60 416.48,346.80 417.06,346.00 417.65,345.20 418.24,344.43 418.93,343.65 419.65,342.88 420.35,342.10 421.05,341.30 421.74,340.50 422.44,339.70 423.15,338.90 423.86,338.12 424.58,337.35 425.29,336.57 425.95,335.80 426.59,335.00 427.15,334.20 427.63,333.40 427.95,332.60 428.09,331.80 428.15,331.00 428.15,330.25 428.15,329.50 428.15,328.75 428.15,328.00 428.21,327.20 428.30,326.40 Z" fill="#6b6b6b" stroke="#000" stroke-width="2.3" stroke-linejoin="round"/>
<line x1="416.97" y1="349.50" x2="439.63" y2="349.50" stroke="#3a3a3a" stroke-width="0.75" stroke-dasharray="1.7 1.3"/>
<line x1="424.25" y1="365.50" x2="432.35" y2="365.50" stroke="#3a3a3a" stroke-width="0.75" stroke-dasharray="1.7 1.3"/>
<line x1="421.12" y1="356.50" x2="435.48" y2="356.50" stroke="#111" stroke-width="0.95" stroke-dasharray="2.3 1.3"/>
<path d="M471.20,322.00 471.29,323.00 471.35,324.00 471.35,324.75 471.35,325.50 471.35,326.25 471.35,327.00 471.39,327.80 471.50,328.60 471.65,329.40 471.97,330.20 472.45,331.00 473.03,331.80 473.75,332.60 474.60,333.38 475.60,334.15 476.62,334.93 477.55,335.70 478.41,336.50 479.22,337.30 479.98,338.10 480.65,338.90 481.23,339.67 481.78,340.45 482.25,341.23 482.65,342.00 483.02,342.80 483.38,343.60 483.65,344.40 483.75,345.20 483.68,345.98 483.50,346.76 483.27,347.54 483.04,348.32 482.85,349.10 482.69,349.90 482.53,350.70 482.40,351.50 482.35,352.30 482.64,353.10 483.16,353.90 483.45,354.70 483.39,355.40 483.25,356.10 483.06,356.80 482.85,357.50 482.58,358.20 482.23,358.90 481.84,359.60 481.50,360.30 481.25,361.00 481.07,361.80 480.94,362.60 480.82,363.40 480.72,364.20 480.60,365.00 480.45,365.80 480.26,366.70 480.04,367.60 479.75,368.50 479.42,369.22 478.97,369.94 478.45,370.66 477.90,371.38 477.35,372.10 476.73,372.88 476.05,373.65 475.37,374.43 474.75,375.20 474.11,376.10 473.55,377.00 473.13,377.70 472.71,378.40 472.38,379.10 472.25,379.80 472.26,380.60 472.28,381.40 472.31,382.20 472.35,383.00 472.41,383.75 472.51,384.50 472.63,385.25 472.75,386.00 472.88,386.80 473.02,387.60 473.16,388.40 473.31,389.20 473.45,390.00 473.59,390.75 473.73,391.50 473.86,392.25 473.95,393.00 474.02,393.77 474.09,394.55 474.13,395.33 474.15,396.10 474.08,396.95 473.91,397.80 473.68,398.65 473.45,399.50 473.19,400.30 472.85,401.10 472.51,401.90 472.25,402.70 472.15,403.50 472.16,404.24 472.20,404.98 472.25,405.71 472.31,406.45 472.37,407.19 472.44,407.92 472.50,408.66 472.55,409.40 472.60,410.14 472.65,410.88 472.70,411.61 472.74,412.35 472.79,413.09 472.82,413.82 472.84,414.56 472.85,415.30 472.81,416.14 472.69,416.98 472.54,417.82 472.38,418.66 472.25,419.50 472.14,420.28 472.03,421.07 471.92,421.85 471.82,422.63 471.73,423.42 471.65,424.20 471.59,425.00 471.53,425.80 471.48,426.60 471.43,427.40 471.39,428.20 471.35,429.00 471.32,429.78 471.29,430.56 471.26,431.34 471.23,432.12 471.20,432.90 L471.20,432.90 471.17,432.12 471.14,431.34 471.11,430.56 471.08,429.78 471.05,429.00 471.01,428.20 470.97,427.40 470.92,426.60 470.87,425.80 470.81,425.00 470.75,424.20 470.67,423.42 470.58,422.63 470.48,421.85 470.37,421.07 470.26,420.28 470.15,419.50 470.02,418.66 469.86,417.82 469.71,416.98 469.59,416.14 469.55,415.30 469.56,414.56 469.58,413.82 469.61,413.09 469.66,412.35 469.70,411.61 469.75,410.88 469.80,410.14 469.85,409.40 469.90,408.66 469.96,407.92 470.03,407.19 470.09,406.45 470.15,405.71 470.20,404.98 470.24,404.24 470.25,403.50 470.15,402.70 469.89,401.90 469.55,401.10 469.21,400.30 468.95,399.50 468.72,398.65 468.49,397.80 468.32,396.95 468.25,396.10 468.27,395.33 468.31,394.55 468.38,393.77 468.45,393.00 468.54,392.25 468.67,391.50 468.81,390.75 468.95,390.00 469.09,389.20 469.24,388.40 469.38,387.60 469.52,386.80 469.65,386.00 469.77,385.25 469.89,384.50 469.99,383.75 470.05,383.00 470.09,382.20 470.12,381.40 470.14,380.60 470.15,379.80 470.02,379.10 469.69,378.40 469.27,377.70 468.85,377.00 468.29,376.10 467.65,375.20 467.03,374.43 466.35,373.65 465.67,372.88 465.05,372.10 464.50,371.38 463.95,370.66 463.43,369.94 462.98,369.22 462.65,368.50 462.36,367.60 462.14,366.70 461.95,365.80 461.80,365.00 461.68,364.20 461.58,363.40 461.46,362.60 461.33,361.80 461.15,361.00 460.90,360.30 460.56,359.60 460.17,358.90 459.82,358.20 459.55,357.50 459.34,356.80 459.15,356.10 459.01,355.40 458.95,354.70 459.24,353.90 459.76,353.10 460.05,352.30 460.00,351.50 459.87,350.70 459.71,349.90 459.55,349.10 459.36,348.32 459.13,347.54 458.90,346.76 458.72,345.98 458.65,345.20 458.75,344.40 459.02,343.60 459.38,342.80 459.75,342.00 460.15,341.23 460.62,340.45 461.17,339.67 461.75,338.90 462.42,338.10 463.18,337.30 463.99,336.50 464.85,335.70 465.78,334.93 466.80,334.15 467.80,333.38 468.65,332.60 469.37,331.80 469.95,331.00 470.43,330.20 470.75,329.40 470.90,328.60 471.01,327.80 471.05,327.00 471.05,326.25 471.05,325.50 471.05,324.75 471.05,324.00 471.11,323.00 471.20,322.00 Z" fill="#a2a2a2" stroke="#000" stroke-width="2.3" stroke-linejoin="round"/>
<line x1="459.58" y1="345.50" x2="482.82" y2="345.50" stroke="#3a3a3a" stroke-width="0.75" stroke-dasharray="1.7 1.3"/>
<line x1="463.55" y1="368.50" x2="478.85" y2="368.50" stroke="#3a3a3a" stroke-width="0.75" stroke-dasharray="1.7 1.3"/>
<line x1="460.45" y1="357.50" x2="481.95" y2="357.50" stroke="#111" stroke-width="0.95" stroke-dasharray="2.3 1.3"/>
<line x1="572.50" y1="297.80" x2="572.50" y2="449.10" stroke="#000" stroke-width="1.7" />
<line x1="566.20" y1="448.30" x2="672.90" y2="448.30" stroke="#000" stroke-width="1.7" />
<line x1="566.20" y1="298.60" x2="572.50" y2="298.60" stroke="#000" stroke-width="1.6" />
<text x="564.40" y="302.78" font-size="11.6" font-weight="bold" text-anchor="end" >6</text>
<line x1="566.20" y1="336.03" x2="572.50" y2="336.03" stroke="#000" stroke-width="1.6" />
<text x="564.40" y="340.21" font-size="11.6" font-weight="bold" text-anchor="end" >4</text>
<line x1="566.20" y1="373.46" x2="572.50" y2="373.46" stroke="#000" stroke-width="1.6" />
<text x="564.40" y="377.64" font-size="11.6" font-weight="bold" text-anchor="end" >2</text>
<line x1="566.20" y1="410.89" x2="572.50" y2="410.89" stroke="#000" stroke-width="1.6" />
<text x="564.40" y="415.07" font-size="11.6" font-weight="bold" text-anchor="end" >0</text>
<line x1="566.20" y1="448.32" x2="572.50" y2="448.32" stroke="#000" stroke-width="1.6" />
<text x="564.40" y="452.50" font-size="11.6" font-weight="bold" text-anchor="end" >-2</text>
<line x1="601.30" y1="448.30" x2="601.30" y2="454.10" stroke="#000" stroke-width="1.6" />
<line x1="644.10" y1="448.30" x2="644.10" y2="454.10" stroke="#000" stroke-width="1.6" />
<line x1="574.00" y1="411.00" x2="672.90" y2="411.00" stroke="#000" stroke-width="1.3" stroke-dasharray="1.6 1.45"/>
<text x="529.50" y="305.10" font-size="12.6" font-weight="bold" text-anchor="start" >H</text>
<text x="542.20" y="372.50" font-size="12.3" font-weight="bold" text-anchor="middle" transform="rotate(-90 542.20 372.50)" dominant-baseline="central">ISR</text>
<text x="578.50" y="258.70" font-size="14.2" font-weight="bold" text-anchor="start" >anti-EA IgG</text>
<text x="574.40" y="282.90" font-size="12.2" font-weight="normal" class="r" style="white-space:pre">p=0.385, p<tspan font-size="8.8" dy="-4.7">corr</tspan><tspan dy="4.7">&gt;0.999</tspan></text>
<path d="M596.90,297.40 L596.90,288.90 L643.70,288.90 L643.70,297.40" fill="none" stroke="#000" stroke-width="2.2" stroke-linejoin="miter"/>
<text x="603.70" y="465.40" font-size="11.2" font-weight="bold" text-anchor="end" transform="rotate(-45 603.70 465.40)">Relapse</text>
<text x="646.50" y="465.40" font-size="11.2" font-weight="bold" text-anchor="end" transform="rotate(-45 646.50 465.40)">Remission</text>
<path d="M601.20,313.40 601.26,314.27 601.32,315.13 601.35,316.00 601.35,316.80 601.35,317.60 601.35,318.40 601.35,319.20 601.35,320.00 601.38,320.75 601.45,321.50 601.55,322.25 601.65,323.00 601.77,323.72 601.93,324.44 602.08,325.16 602.20,325.88 602.25,326.60 602.22,327.37 602.13,328.14 602.01,328.91 601.87,329.69 601.74,330.46 601.62,331.23 601.55,332.00 601.51,332.71 601.47,333.43 601.43,334.14 601.40,334.86 601.37,335.57 601.36,336.29 601.35,337.00 601.35,337.73 601.36,338.45 601.37,339.18 601.39,339.91 601.40,340.64 601.42,341.36 601.45,342.09 601.47,342.82 601.50,343.55 601.52,344.27 601.55,345.00 601.59,345.71 601.64,346.42 601.70,347.13 601.76,347.84 601.83,348.55 601.90,349.26 601.96,349.97 602.01,350.68 602.04,351.39 602.05,352.10 602.03,352.84 601.97,353.58 601.89,354.31 601.80,355.05 601.71,355.79 601.63,356.52 601.57,357.26 601.55,358.00 601.58,358.70 601.65,359.40 601.74,360.10 601.85,360.80 601.95,361.50 602.06,362.26 602.19,363.02 602.31,363.78 602.44,364.54 602.55,365.30 602.64,366.00 602.72,366.70 602.80,367.40 602.87,368.10 602.95,368.80 603.03,369.52 603.10,370.24 603.18,370.96 603.26,371.68 603.35,372.40 603.45,373.12 603.57,373.84 603.69,374.56 603.82,375.28 603.95,376.00 604.09,376.70 604.24,377.40 604.39,378.10 604.53,378.80 604.65,379.50 604.76,380.24 604.87,380.98 604.96,381.72 605.03,382.46 605.05,383.20 604.90,383.98 604.56,384.75 604.16,385.52 603.85,386.30 603.63,387.03 603.43,387.77 603.35,388.50 603.48,389.37 603.79,390.23 604.15,391.10 604.50,391.83 604.94,392.55 605.43,393.27 605.95,394.00 606.59,394.83 607.29,395.67 608.05,396.50 608.95,397.35 609.85,398.20 610.52,398.90 611.18,399.60 611.79,400.30 612.33,401.00 612.75,401.70 613.12,402.42 613.47,403.14 613.77,403.86 613.97,404.58 614.05,405.30 613.90,406.02 613.51,406.75 612.97,407.48 612.35,408.20 611.47,408.95 610.25,409.70 608.85,410.45 607.45,411.20 605.70,412.00 603.87,412.80 602.75,413.60 602.37,414.30 602.06,415.00 601.83,415.70 601.66,416.40 601.55,417.10 601.47,417.83 601.41,418.56 601.36,419.29 601.32,420.01 601.28,420.74 601.25,421.47 601.20,422.20 L601.20,422.20 601.15,421.47 601.12,420.74 601.08,420.01 601.04,419.29 600.99,418.56 600.93,417.83 600.85,417.10 600.74,416.40 600.57,415.70 600.34,415.00 600.03,414.30 599.65,413.60 598.53,412.80 596.70,412.00 594.95,411.20 593.55,410.45 592.15,409.70 590.93,408.95 590.05,408.20 589.43,407.48 588.89,406.75 588.50,406.02 588.35,405.30 588.43,404.58 588.63,403.86 588.93,403.14 589.28,402.42 589.65,401.70 590.07,401.00 590.61,400.30 591.22,399.60 591.88,398.90 592.55,398.20 593.45,397.35 594.35,396.50 595.11,395.67 595.81,394.83 596.45,394.00 596.97,393.27 597.46,392.55 597.90,391.83 598.25,391.10 598.61,390.23 598.92,389.37 599.05,388.50 598.97,387.77 598.77,387.03 598.55,386.30 598.24,385.52 597.84,384.75 597.50,383.98 597.35,383.20 597.37,382.46 597.44,381.72 597.53,380.98 597.64,380.24 597.75,379.50 597.87,378.80 598.01,378.10 598.16,377.40 598.31,376.70 598.45,376.00 598.58,375.28 598.71,374.56 598.83,373.84 598.95,373.12 599.05,372.40 599.14,371.68 599.22,370.96 599.30,370.24 599.37,369.52 599.45,368.80 599.53,368.10 599.60,367.40 599.68,366.70 599.76,366.00 599.85,365.30 599.96,364.54 600.09,363.78 600.21,363.02 600.34,362.26 600.45,361.50 600.55,360.80 600.66,360.10 600.75,359.40 600.82,358.70 600.85,358.00 600.83,357.26 600.77,356.52 600.69,355.79 600.60,355.05 600.51,354.31 600.43,353.58 600.37,352.84 600.35,352.10 600.36,351.39 600.39,350.68 600.44,349.97 600.50,349.26 600.57,348.55 600.64,347.84 600.70,347.13 600.76,346.42 600.81,345.71 600.85,345.00 600.88,344.27 600.90,343.55 600.93,342.82 600.95,342.09 600.98,341.36 601.00,340.64 601.01,339.91 601.03,339.18 601.04,338.45 601.05,337.73 601.05,337.00 601.04,336.29 601.03,335.57 601.00,334.86 600.97,334.14 600.93,333.43 600.89,332.71 600.85,332.00 600.78,331.23 600.66,330.46 600.53,329.69 600.39,328.91 600.27,328.14 600.18,327.37 600.15,326.60 600.20,325.88 600.32,325.16 600.47,324.44 600.63,323.72 600.75,323.00 600.85,322.25 600.95,321.50 601.02,320.75 601.05,320.00 601.05,319.20 601.05,318.40 601.05,317.60 601.05,316.80 601.05,316.00 601.08,315.13 601.14,314.27 601.20,313.40 Z" fill="#6b6b6b" stroke="#000" stroke-width="2.3" stroke-linejoin="round"/>
<line x1="599.51" y1="386.50" x2="602.89" y2="386.50" stroke="#3a3a3a" stroke-width="0.75" stroke-dasharray="1.7 1.3"/>
<line x1="590.35" y1="407.50" x2="612.05" y2="407.50" stroke="#3a3a3a" stroke-width="0.75" stroke-dasharray="1.7 1.3"/>
<line x1="589.68" y1="403.50" x2="612.72" y2="403.50" stroke="#111" stroke-width="0.95" stroke-dasharray="2.3 1.3"/>
<path d="M644.30,310.90 644.38,311.60 644.46,312.30 644.55,313.00 644.68,313.76 644.86,314.51 645.05,315.27 645.24,316.03 645.40,316.79 645.51,317.54 645.55,318.30 645.49,319.08 645.34,319.87 645.14,320.65 644.93,321.43 644.75,322.22 644.65,323.00 644.60,323.71 644.56,324.43 644.52,325.14 644.49,325.86 644.47,326.57 644.46,327.29 644.45,328.00 644.45,328.71 644.46,329.43 644.47,330.14 644.49,330.86 644.51,331.57 644.53,332.29 644.55,333.00 644.58,333.71 644.62,334.43 644.67,335.14 644.72,335.85 644.77,336.56 644.81,337.27 644.84,337.99 644.85,338.70 644.83,339.46 644.77,340.21 644.69,340.97 644.61,341.73 644.53,342.49 644.47,343.24 644.45,344.00 644.45,344.76 644.45,345.51 644.45,346.27 644.45,347.03 644.45,347.79 644.45,348.54 644.45,349.30 644.45,350.01 644.47,350.73 644.49,351.44 644.51,352.15 644.55,352.86 644.58,353.57 644.61,354.29 644.65,355.00 644.70,355.71 644.77,356.43 644.84,357.14 644.92,357.86 644.99,358.57 645.03,359.29 645.05,360.00 645.02,360.76 644.93,361.51 644.81,362.27 644.69,363.03 644.57,363.79 644.48,364.54 644.45,365.30 644.50,366.03 644.63,366.77 644.80,367.50 644.97,368.23 645.10,368.97 645.15,369.70 645.11,370.46 645.01,371.21 644.87,371.97 644.73,372.73 644.59,373.49 644.49,374.24 644.45,375.00 644.49,375.77 644.58,376.54 644.71,377.31 644.84,378.09 644.97,378.86 645.06,379.63 645.10,380.40 645.07,381.17 645.00,381.95 644.89,382.73 644.77,383.50 644.66,384.27 644.55,385.05 644.48,385.83 644.45,386.60 644.48,387.34 644.56,388.09 644.67,388.83 644.82,389.57 644.99,390.31 645.17,391.06 645.35,391.80 645.60,392.60 645.90,393.40 646.15,394.20 646.31,395.00 646.43,395.80 646.56,396.60 646.75,397.40 647.04,398.17 647.48,398.93 648.05,399.70 649.03,400.50 650.41,401.30 651.85,402.10 653.38,402.90 654.75,403.70 655.76,404.47 656.60,405.23 656.95,406.00 656.45,407.00 655.35,408.00 653.84,408.80 651.85,409.60 649.76,410.40 647.65,411.20 646.00,411.80 644.95,412.40 644.68,413.25 644.53,414.10 644.43,414.95 644.30,415.80 L644.30,415.80 644.17,414.95 644.07,414.10 643.92,413.25 643.65,412.40 642.60,411.80 640.95,411.20 638.84,410.40 636.75,409.60 634.76,408.80 633.25,408.00 632.15,407.00 631.65,406.00 632.00,405.23 632.84,404.47 633.85,403.70 635.22,402.90 636.75,402.10 638.19,401.30 639.57,400.50 640.55,399.70 641.12,398.93 641.56,398.17 641.85,397.40 642.04,396.60 642.17,395.80 642.29,395.00 642.45,394.20 642.70,393.40 643.00,392.60 643.25,391.80 643.43,391.06 643.61,390.31 643.78,389.57 643.93,388.83 644.04,388.09 644.12,387.34 644.15,386.60 644.12,385.83 644.05,385.05 643.94,384.27 643.82,383.50 643.71,382.73 643.60,381.95 643.53,381.17 643.50,380.40 643.54,379.63 643.63,378.86 643.76,378.09 643.89,377.31 644.02,376.54 644.11,375.77 644.15,375.00 644.11,374.24 644.01,373.49 643.87,372.73 643.73,371.97 643.59,371.21 643.49,370.46 643.45,369.70 643.50,368.97 643.63,368.23 643.80,367.50 643.97,366.77 644.10,366.03 644.15,365.30 644.12,364.54 644.03,363.79 643.91,363.03 643.79,362.27 643.67,361.51 643.58,360.76 643.55,360.00 643.57,359.29 643.61,358.57 643.68,357.86 643.76,357.14 643.83,356.43 643.90,355.71 643.95,355.00 643.99,354.29 644.02,353.57 644.05,352.86 644.09,352.15 644.11,351.44 644.13,350.73 644.15,350.01 644.15,349.30 644.15,348.54 644.15,347.79 644.15,347.03 644.15,346.27 644.15,345.51 644.15,344.76 644.15,344.00 644.13,343.24 644.07,342.49 643.99,341.73 643.91,340.97 643.83,340.21 643.77,339.46 643.75,338.70 643.76,337.99 643.79,337.27 643.83,336.56 643.88,335.85 643.93,335.14 643.98,334.43 644.02,333.71 644.05,333.00 644.07,332.29 644.09,331.57 644.11,330.86 644.13,330.14 644.14,329.43 644.15,328.71 644.15,328.00 644.14,327.29 644.13,326.57 644.11,325.86 644.08,325.14 644.04,324.43 644.00,323.71 643.95,323.00 643.85,322.22 643.67,321.43 643.46,320.65 643.26,319.87 643.11,319.08 643.05,318.30 643.09,317.54 643.20,316.79 643.36,316.03 643.55,315.27 643.74,314.51 643.92,313.76 644.05,313.00 644.14,312.30 644.22,311.60 644.30,310.90 Z" fill="#a2a2a2" stroke="#000" stroke-width="2.3" stroke-linejoin="round"/>
<line x1="633.60" y1="407.50" x2="655.00" y2="407.50" stroke="#3a3a3a" stroke-width="0.75" stroke-dasharray="1.7 1.3"/>
<line x1="633.71" y1="404.50" x2="654.89" y2="404.50" stroke="#111" stroke-width="0.95" stroke-dasharray="2.3 1.3"/>
</svg>
</body></html>
